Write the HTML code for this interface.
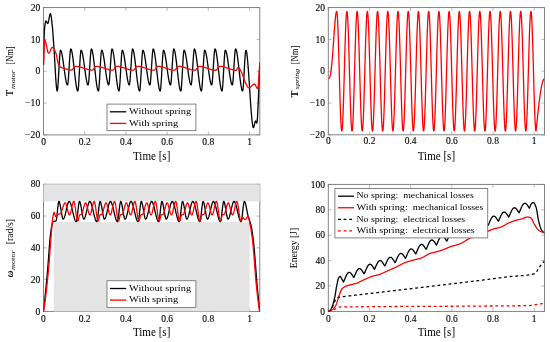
<!DOCTYPE html>
<html><head><meta charset="utf-8"><style>html,body{margin:0;padding:0;background:#fff;overflow:hidden}svg{display:block}</style></head><body>
<svg width="550" height="342" viewBox="0 0 550 342">
<style>text{font-family:"Liberation Serif",serif;fill:#000}.tk{font-size:9.5px;stroke:#000;stroke-width:0.12px}.xl{font-size:12px}.lg{font-size:8.8px}.yl{font-size:9.6px}.ys{font-size:7px;font-style:italic}</style>
<defs><clipPath id="ca"><rect x="43.5" y="5.6" width="216.3" height="131.3"/></clipPath><clipPath id="cb"><rect x="328.3" y="5.6" width="216.2" height="131.2"/></clipPath><clipPath id="cc"><rect x="43.45" y="182.3" width="216.35" height="131.1"/></clipPath><clipPath id="cd"><rect x="328.3" y="182.4" width="216.2" height="131"/></clipPath></defs>
<rect width="550" height="342" fill="#fff"/>
<path d="M43.5,134.9 V131.6 M43.5,7.6 V10.9 M84.7,134.9 V131.6 M84.7,7.6 V10.9 M125.9,134.9 V131.6 M125.9,7.6 V10.9 M167.1,134.9 V131.6 M167.1,7.6 V10.9 M208.3,134.9 V131.6 M208.3,7.6 V10.9 M249.5,134.9 V131.6 M249.5,7.6 V10.9 M43.5,134.9 H46.8 M259.8,134.9 H256.5 M43.5,103.08 H46.8 M259.8,103.08 H256.5 M43.5,71.25 H46.8 M259.8,71.25 H256.5 M43.5,39.42 H46.8 M259.8,39.42 H256.5 M43.5,7.6 H46.8 M259.8,7.6 H256.5" stroke="#777" stroke-width="0.5" fill="none"/>
<rect x="43.5" y="7.6" width="216.3" height="127.3" fill="none" stroke="#777" stroke-width="0.9"/>
<path d="M328.3,134.8 V131.5 M328.3,7.6 V10.9 M369.48,134.8 V131.5 M369.48,7.6 V10.9 M410.66,134.8 V131.5 M410.66,7.6 V10.9 M451.84,134.8 V131.5 M451.84,7.6 V10.9 M493.02,134.8 V131.5 M493.02,7.6 V10.9 M534.2,134.8 V131.5 M534.2,7.6 V10.9 M328.3,134.8 H331.6 M544.5,134.8 H541.2 M328.3,103 H331.6 M544.5,103 H541.2 M328.3,71.2 H331.6 M544.5,71.2 H541.2 M328.3,39.4 H331.6 M544.5,39.4 H541.2 M328.3,7.6 H331.6 M544.5,7.6 H541.2" stroke="#777" stroke-width="0.5" fill="none"/>
<rect x="328.3" y="7.6" width="216.2" height="127.2" fill="none" stroke="#777" stroke-width="0.9"/>
<path d="M43.45,311.4 V308.1 M43.45,184.3 V187.6 M84.66,311.4 V308.1 M84.66,184.3 V187.6 M125.87,311.4 V308.1 M125.87,184.3 V187.6 M167.08,311.4 V308.1 M167.08,184.3 V187.6 M208.29,311.4 V308.1 M208.29,184.3 V187.6 M249.5,311.4 V308.1 M249.5,184.3 V187.6 M43.45,311.4 H46.75 M259.8,311.4 H256.5 M43.45,279.62 H46.75 M259.8,279.62 H256.5 M43.45,247.85 H46.75 M259.8,247.85 H256.5 M43.45,216.07 H46.75 M259.8,216.07 H256.5 M43.45,184.3 H46.75 M259.8,184.3 H256.5" stroke="#777" stroke-width="0.5" fill="none"/>
<rect x="43.45" y="184.3" width="216.35" height="127.1" fill="none" stroke="#777" stroke-width="0.9"/>
<path d="M328.3,311.4 V308.1 M328.3,184.4 V187.7 M369.48,311.4 V308.1 M369.48,184.4 V187.7 M410.66,311.4 V308.1 M410.66,184.4 V187.7 M451.84,311.4 V308.1 M451.84,184.4 V187.7 M493.02,311.4 V308.1 M493.02,184.4 V187.7 M534.2,311.4 V308.1 M534.2,184.4 V187.7 M328.3,311.4 H331.6 M544.5,311.4 H541.2 M328.3,286 H331.6 M544.5,286 H541.2 M328.3,260.6 H331.6 M544.5,260.6 H541.2 M328.3,235.2 H331.6 M544.5,235.2 H541.2 M328.3,209.8 H331.6 M544.5,209.8 H541.2 M328.3,184.4 H331.6 M544.5,184.4 H541.2" stroke="#777" stroke-width="0.5" fill="none"/>
<rect x="328.3" y="184.4" width="216.2" height="127" fill="none" stroke="#777" stroke-width="0.9"/>
<rect x="43.45" y="184.3" width="216.35" height="17" fill="#e4e4e4"/>
<rect x="53.75" y="222.11" width="195.75" height="89.29" fill="#e4e4e4"/>
<g fill="none" stroke-width="1.3" stroke-linejoin="round" clip-path="url(#ca)">
<path d="M43.5,64.89 L43.75,50.95 L43.99,40.7 L44.02,40.06 L44.24,33.9 L44.49,29.37 L44.53,28.92 L44.74,27.03 L44.98,25.03 L45.23,23.37 L45.48,22.1 L45.72,21.28 L45.97,20.97 L45.99,20.97 L46.22,21.08 L46.47,21.42 L46.71,21.91 L46.96,22.44 L47.21,22.94 L47.46,23.33 L47.7,23.51 L47.74,23.51 L47.95,23.35 L48.2,22.77 L48.44,21.86 L48.69,20.72 L48.94,19.42 L49.19,18.07 L49.43,16.76 L49.68,15.56 L49.93,14.59 L50.17,13.92 L50.42,13.65 L50.44,13.65 L50.67,13.93 L50.92,14.83 L51.16,16.24 L51.41,18.03 L51.66,20.11 L51.9,22.36 L52.15,24.67 L52.34,26.38 L52.4,26.96 L52.65,29.67 L52.89,32.86 L53.14,36.35 L53.39,39.94 L53.64,43.44 L53.74,44.84 L53.88,46.82 L54.13,50.55 L54.38,54.59 L54.62,58.85 L54.87,63.22 L55.12,67.61 L55.37,71.9 L55.61,76 L55.86,79.81 L56.11,83.22 L56.35,86.14 L56.6,88.46 L56.85,90.08 L57.1,90.9 L57.2,90.98 L57.34,90.75 L57.59,89.39 L57.84,86.99 L58.08,83.74 L58.33,79.85 L58.58,75.53 L58.83,71 L59.07,66.44 L59.32,62.07 L59.57,58.1 L59.82,54.73 L60.06,52.17 L60.31,50.62 L60.5,50.25 L60.56,50.25 L60.8,50.44 L61.05,50.87 L61.3,51.51 L61.55,52.35 L61.79,53.38 L62.04,54.56 L62.29,55.9 L62.53,57.36 L62.78,58.92 L63.03,60.58 L63.28,62.31 L63.52,64.09 L63.77,65.91 L64.02,67.74 L64.26,69.58 L64.51,71.39 L64.76,73.16 L65.01,74.88 L65.25,76.52 L65.5,78.08 L65.75,79.51 L66,80.82 L66.24,81.99 L66.49,82.98 L66.74,83.79 L66.98,84.4 L67.23,84.79 L67.48,84.93 L67.5,84.93 L67.73,84.45 L67.97,82.92 L68.22,80.53 L68.47,77.45 L68.71,73.87 L68.96,69.98 L69.21,65.94 L69.46,61.96 L69.7,58.2 L69.95,54.85 L70.2,52.09 L70.44,50.1 L70.69,49.08 L70.8,48.97 L70.94,49.03 L71.19,49.35 L71.43,49.96 L71.68,50.82 L71.93,51.91 L72.18,53.22 L72.42,54.72 L72.67,56.39 L72.92,58.2 L73.16,60.14 L73.41,62.18 L73.66,64.3 L73.91,66.47 L74.15,68.68 L74.4,70.9 L74.65,73.12 L74.89,75.3 L75.14,77.43 L75.39,79.48 L75.64,81.44 L75.88,83.27 L76.13,84.96 L76.38,86.49 L76.62,87.84 L76.87,88.97 L77.12,89.87 L77.37,90.52 L77.61,90.89 L77.8,90.98 L77.86,90.94 L78.11,89.97 L78.36,87.89 L78.6,84.9 L78.85,81.2 L79.1,77.01 L79.34,72.52 L79.59,67.95 L79.84,63.49 L80.09,59.37 L80.33,55.77 L80.58,52.92 L80.83,51.01 L81.07,50.25 L81.09,50.25 L81.32,50.35 L81.57,50.7 L81.82,51.27 L82.06,52.05 L82.31,53.02 L82.56,54.15 L82.8,55.44 L83.05,56.86 L83.3,58.39 L83.55,60.02 L83.79,61.73 L84.04,63.49 L84.29,65.3 L84.54,67.13 L84.78,68.97 L85.03,70.79 L85.28,72.58 L85.52,74.32 L85.77,75.99 L86.02,77.57 L86.27,79.05 L86.51,80.4 L86.76,81.62 L87.01,82.67 L87.25,83.54 L87.5,84.22 L87.75,84.68 L88,84.91 L88.1,84.93 L88.24,84.73 L88.49,83.53 L88.74,81.41 L88.98,78.54 L89.23,75.11 L89.48,71.3 L89.73,67.29 L89.97,63.27 L90.22,59.41 L90.47,55.91 L90.72,52.93 L90.96,50.67 L91.21,49.3 L91.4,48.97 L91.46,48.98 L91.7,49.21 L91.95,49.73 L92.2,50.5 L92.45,51.52 L92.69,52.76 L92.94,54.2 L93.19,55.82 L93.43,57.58 L93.68,59.48 L93.93,61.49 L94.18,63.58 L94.42,65.74 L94.67,67.94 L94.92,70.16 L95.16,72.38 L95.41,74.58 L95.66,76.73 L95.91,78.81 L96.15,80.8 L96.4,82.67 L96.65,84.42 L96.9,86 L97.14,87.41 L97.39,88.62 L97.64,89.6 L97.88,90.33 L98.13,90.8 L98.38,90.98 L98.4,90.98 L98.63,90.43 L98.87,88.7 L99.12,85.99 L99.37,82.5 L99.61,78.45 L99.86,74.04 L100.11,69.47 L100.36,64.95 L100.6,60.69 L100.85,56.9 L101.1,53.78 L101.34,51.53 L101.59,50.36 L101.7,50.25 L101.84,50.29 L102.09,50.56 L102.33,51.06 L102.58,51.77 L102.83,52.68 L103.08,53.76 L103.32,54.99 L103.57,56.37 L103.82,57.87 L104.06,59.47 L104.31,61.15 L104.56,62.9 L104.81,64.69 L105.05,66.52 L105.3,68.36 L105.55,70.18 L105.79,71.99 L106.04,73.74 L106.29,75.44 L106.54,77.05 L106.78,78.57 L107.03,79.97 L107.28,81.23 L107.52,82.34 L107.77,83.27 L108.02,84.02 L108.27,84.55 L108.51,84.86 L108.7,84.93 L108.76,84.9 L109.01,84.05 L109.26,82.21 L109.5,79.57 L109.75,76.3 L110,72.6 L110.24,68.64 L110.49,64.6 L110.74,60.67 L110.99,57.03 L111.23,53.85 L111.48,51.33 L111.73,49.65 L111.97,48.98 L112,48.97 L112.22,49.1 L112.47,49.52 L112.72,50.22 L112.96,51.16 L113.21,52.33 L113.46,53.7 L113.7,55.26 L113.95,56.98 L114.2,58.84 L114.45,60.81 L114.69,62.88 L114.94,65.02 L115.19,67.2 L115.44,69.42 L115.68,71.64 L115.93,73.85 L116.18,76.02 L116.42,78.12 L116.67,80.15 L116.92,82.06 L117.17,83.85 L117.41,85.49 L117.66,86.96 L117.91,88.24 L118.15,89.3 L118.4,90.12 L118.65,90.68 L118.9,90.95 L119,90.98 L119.14,90.75 L119.39,89.39 L119.64,86.99 L119.88,83.74 L120.13,79.85 L120.38,75.53 L120.63,71 L120.87,66.44 L121.12,62.07 L121.37,58.1 L121.62,54.73 L121.86,52.17 L122.11,50.62 L122.3,50.25 L122.36,50.25 L122.6,50.44 L122.85,50.87 L123.1,51.51 L123.35,52.35 L123.59,53.38 L123.84,54.56 L124.09,55.9 L124.33,57.36 L124.58,58.92 L124.83,60.58 L125.08,62.31 L125.32,64.09 L125.57,65.91 L125.82,67.74 L126.06,69.58 L126.31,71.39 L126.56,73.16 L126.81,74.88 L127.05,76.52 L127.3,78.08 L127.55,79.51 L127.8,80.82 L128.04,81.99 L128.29,82.98 L128.54,83.79 L128.78,84.4 L129.03,84.79 L129.28,84.93 L129.3,84.93 L129.53,84.45 L129.77,82.92 L130.02,80.53 L130.27,77.45 L130.51,73.87 L130.76,69.98 L131.01,65.94 L131.26,61.96 L131.5,58.2 L131.75,54.85 L132,52.09 L132.24,50.1 L132.49,49.08 L132.6,48.97 L132.74,49.03 L132.99,49.35 L133.23,49.96 L133.48,50.82 L133.73,51.91 L133.98,53.22 L134.22,54.72 L134.47,56.39 L134.72,58.2 L134.96,60.14 L135.21,62.18 L135.46,64.3 L135.71,66.47 L135.95,68.68 L136.2,70.9 L136.45,73.12 L136.69,75.3 L136.94,77.43 L137.19,79.48 L137.44,81.44 L137.68,83.27 L137.93,84.96 L138.18,86.49 L138.42,87.84 L138.67,88.97 L138.92,89.87 L139.17,90.52 L139.41,90.89 L139.6,90.98 L139.66,90.94 L139.91,89.97 L140.16,87.89 L140.4,84.9 L140.65,81.2 L140.9,77.01 L141.14,72.52 L141.39,67.95 L141.64,63.49 L141.89,59.37 L142.13,55.77 L142.38,52.92 L142.63,51.01 L142.87,50.25 L142.9,50.25 L143.12,50.35 L143.37,50.7 L143.62,51.27 L143.86,52.05 L144.11,53.02 L144.36,54.15 L144.6,55.44 L144.85,56.86 L145.1,58.39 L145.35,60.02 L145.59,61.73 L145.84,63.49 L146.09,65.3 L146.34,67.13 L146.58,68.97 L146.83,70.79 L147.08,72.58 L147.32,74.32 L147.57,75.99 L147.82,77.57 L148.07,79.05 L148.31,80.4 L148.56,81.62 L148.81,82.67 L149.05,83.54 L149.3,84.22 L149.55,84.68 L149.8,84.91 L149.9,84.93 L150.04,84.73 L150.29,83.53 L150.54,81.41 L150.78,78.54 L151.03,75.11 L151.28,71.3 L151.53,67.29 L151.77,63.27 L152.02,59.41 L152.27,55.91 L152.52,52.93 L152.76,50.67 L153.01,49.3 L153.19,48.97 L153.26,48.98 L153.5,49.21 L153.75,49.73 L154,50.5 L154.25,51.52 L154.49,52.76 L154.74,54.2 L154.99,55.82 L155.23,57.58 L155.48,59.48 L155.73,61.49 L155.98,63.58 L156.22,65.74 L156.47,67.94 L156.72,70.16 L156.96,72.38 L157.21,74.58 L157.46,76.73 L157.71,78.81 L157.95,80.8 L158.2,82.67 L158.45,84.42 L158.7,86 L158.94,87.41 L159.19,88.62 L159.44,89.6 L159.68,90.33 L159.93,90.8 L160.18,90.98 L160.2,90.98 L160.43,90.43 L160.67,88.7 L160.92,85.99 L161.17,82.5 L161.41,78.45 L161.66,74.04 L161.91,69.47 L162.16,64.95 L162.4,60.69 L162.65,56.9 L162.9,53.78 L163.14,51.53 L163.39,50.36 L163.5,50.25 L163.64,50.29 L163.89,50.56 L164.13,51.06 L164.38,51.77 L164.63,52.68 L164.88,53.76 L165.12,54.99 L165.37,56.37 L165.62,57.87 L165.86,59.47 L166.11,61.15 L166.36,62.9 L166.61,64.69 L166.85,66.52 L167.1,68.36 L167.35,70.18 L167.59,71.99 L167.84,73.74 L168.09,75.44 L168.34,77.05 L168.58,78.57 L168.83,79.97 L169.08,81.23 L169.32,82.34 L169.57,83.27 L169.82,84.02 L170.07,84.55 L170.31,84.86 L170.5,84.93 L170.56,84.9 L170.81,84.05 L171.06,82.21 L171.3,79.57 L171.55,76.3 L171.8,72.6 L172.04,68.64 L172.29,64.6 L172.54,60.67 L172.79,57.03 L173.03,53.85 L173.28,51.33 L173.53,49.65 L173.77,48.98 L173.8,48.97 L174.02,49.1 L174.27,49.52 L174.52,50.22 L174.76,51.16 L175.01,52.33 L175.26,53.7 L175.5,55.26 L175.75,56.98 L176,58.84 L176.25,60.81 L176.49,62.88 L176.74,65.02 L176.99,67.2 L177.24,69.42 L177.48,71.64 L177.73,73.85 L177.98,76.02 L178.22,78.12 L178.47,80.15 L178.72,82.06 L178.97,83.85 L179.21,85.49 L179.46,86.96 L179.71,88.24 L179.95,89.3 L180.2,90.12 L180.45,90.68 L180.7,90.95 L180.8,90.98 L180.94,90.75 L181.19,89.39 L181.44,86.99 L181.68,83.74 L181.93,79.85 L182.18,75.53 L182.43,71 L182.67,66.44 L182.92,62.07 L183.17,58.1 L183.42,54.73 L183.66,52.17 L183.91,50.62 L184.1,50.25 L184.16,50.25 L184.4,50.44 L184.65,50.87 L184.9,51.51 L185.15,52.35 L185.39,53.38 L185.64,54.56 L185.89,55.9 L186.13,57.36 L186.38,58.92 L186.63,60.58 L186.88,62.31 L187.12,64.09 L187.37,65.91 L187.62,67.74 L187.86,69.58 L188.11,71.39 L188.36,73.16 L188.61,74.88 L188.85,76.52 L189.1,78.08 L189.35,79.51 L189.6,80.82 L189.84,81.99 L190.09,82.98 L190.34,83.79 L190.58,84.4 L190.83,84.79 L191.08,84.93 L191.1,84.93 L191.33,84.45 L191.57,82.92 L191.82,80.53 L192.07,77.45 L192.31,73.87 L192.56,69.98 L192.81,65.94 L193.06,61.96 L193.3,58.2 L193.55,54.85 L193.8,52.09 L194.04,50.1 L194.29,49.08 L194.4,48.97 L194.54,49.03 L194.79,49.35 L195.03,49.96 L195.28,50.82 L195.53,51.91 L195.78,53.22 L196.02,54.72 L196.27,56.39 L196.52,58.2 L196.76,60.14 L197.01,62.18 L197.26,64.3 L197.51,66.47 L197.75,68.68 L198,70.9 L198.25,73.12 L198.49,75.3 L198.74,77.43 L198.99,79.48 L199.24,81.44 L199.48,83.27 L199.73,84.96 L199.98,86.49 L200.22,87.84 L200.47,88.97 L200.72,89.87 L200.97,90.52 L201.21,90.89 L201.4,90.98 L201.46,90.94 L201.71,89.97 L201.96,87.89 L202.2,84.9 L202.45,81.2 L202.7,77.01 L202.94,72.52 L203.19,67.95 L203.44,63.49 L203.69,59.37 L203.93,55.77 L204.18,52.92 L204.43,51.01 L204.67,50.25 L204.7,50.25 L204.92,50.35 L205.17,50.7 L205.42,51.27 L205.66,52.05 L205.91,53.02 L206.16,54.15 L206.4,55.44 L206.65,56.86 L206.9,58.39 L207.15,60.02 L207.39,61.73 L207.64,63.49 L207.89,65.3 L208.14,67.13 L208.38,68.97 L208.63,70.79 L208.88,72.58 L209.12,74.32 L209.37,75.99 L209.62,77.57 L209.87,79.05 L210.11,80.4 L210.36,81.62 L210.61,82.67 L210.85,83.54 L211.1,84.22 L211.35,84.68 L211.6,84.91 L211.7,84.93 L211.84,84.73 L212.09,83.53 L212.34,81.41 L212.58,78.54 L212.83,75.11 L213.08,71.3 L213.33,67.29 L213.57,63.27 L213.82,59.41 L214.07,55.91 L214.32,52.93 L214.56,50.67 L214.81,49.3 L215,48.97 L215.06,48.98 L215.3,49.21 L215.55,49.73 L215.8,50.5 L216.05,51.52 L216.29,52.76 L216.54,54.2 L216.79,55.82 L217.03,57.58 L217.28,59.48 L217.53,61.49 L217.78,63.58 L218.02,65.74 L218.27,67.94 L218.52,70.16 L218.76,72.38 L219.01,74.58 L219.26,76.73 L219.51,78.81 L219.75,80.8 L220,82.67 L220.25,84.42 L220.5,86 L220.74,87.41 L220.99,88.62 L221.24,89.6 L221.48,90.33 L221.73,90.8 L221.98,90.98 L222,90.98 L222.23,90.43 L222.47,88.7 L222.72,85.99 L222.97,82.5 L223.21,78.45 L223.46,74.04 L223.71,69.47 L223.96,64.95 L224.2,60.69 L224.45,56.9 L224.7,53.78 L224.94,51.53 L225.19,50.36 L225.3,50.25 L225.44,50.29 L225.69,50.56 L225.93,51.06 L226.18,51.77 L226.43,52.68 L226.68,53.76 L226.92,54.99 L227.17,56.37 L227.42,57.87 L227.66,59.47 L227.91,61.15 L228.16,62.9 L228.41,64.69 L228.65,66.52 L228.9,68.36 L229.15,70.18 L229.39,71.99 L229.64,73.74 L229.89,75.44 L230.14,77.05 L230.38,78.57 L230.63,79.97 L230.88,81.23 L231.12,82.34 L231.37,83.27 L231.62,84.02 L231.87,84.55 L232.11,84.86 L232.3,84.93 L232.36,84.9 L232.61,84.05 L232.86,82.21 L233.1,79.57 L233.35,76.3 L233.6,72.6 L233.84,68.64 L234.09,64.6 L234.34,60.67 L234.59,57.03 L234.83,53.85 L235.08,51.33 L235.33,49.65 L235.57,48.98 L235.6,48.97 L235.82,49.1 L236.07,49.52 L236.32,50.22 L236.56,51.16 L236.81,52.33 L237.06,53.7 L237.3,55.26 L237.55,56.98 L237.8,58.84 L238.05,60.81 L238.29,62.88 L238.54,65.02 L238.79,67.2 L239.04,69.42 L239.28,71.64 L239.53,73.85 L239.78,76.02 L240.02,78.12 L240.27,80.15 L240.52,82.06 L240.77,83.85 L241.01,85.49 L241.26,86.96 L241.51,88.24 L241.75,89.3 L242,90.12 L242.25,90.68 L242.5,90.95 L242.6,90.98 L242.74,90.75 L242.99,89.39 L243.24,86.99 L243.48,83.74 L243.73,79.85 L243.98,75.53 L244.23,71 L244.47,66.44 L244.72,62.07 L244.97,58.1 L245.22,54.73 L245.46,52.17 L245.71,50.62 L245.9,50.25 L245.96,50.26 L246.2,50.63 L246.45,51.45 L246.7,52.71 L246.95,54.35 L247.19,56.36 L247.44,58.7 L247.69,61.33 L247.93,64.23 L248.18,67.35 L248.43,70.67 L248.68,74.16 L248.92,77.77 L249.17,81.49 L249.42,85.26 L249.66,89.07 L249.91,92.88 L250.16,96.65 L250.41,100.36 L250.65,103.96 L250.9,107.44 L251.15,110.74 L251.4,113.85 L251.64,116.72 L251.89,119.33 L252.14,121.64 L252.38,123.62 L252.63,125.24 L252.88,126.46 L253.13,127.25 L253.37,127.57 L253.41,127.58 L253.62,127.41 L253.87,126.84 L254.11,125.96 L254.36,124.9 L254.61,123.77 L254.86,122.69 L255.1,121.77 L255.35,121.13 L255.6,120.9 L255.6,120.9 L255.84,121.14 L256.09,121.73 L256.34,122.41 L256.59,122.95 L256.79,123.12 L256.83,123.1 L257.08,121.98 L257.33,119.42 L257.58,115.68 L257.82,111.06 L258.07,105.85 L258.32,100.33 L258.56,94.78 L258.77,90.34 L258.81,89.47 L259.06,83.78 L259.31,77.39 L259.55,70.51 L259.8,63.29 L259.8,63.29" stroke="#000"/>
<path d="M43.5,63.93 L43.75,57.52 L43.99,51.11 L44.24,45.52 L44.49,41.56 L44.74,40.06 L44.74,40.06 L44.98,40.22 L45.23,40.65 L45.48,41.33 L45.72,42.2 L45.97,43.24 L46.22,44.39 L46.47,45.62 L46.71,46.88 L46.96,48.13 L47.21,49.34 L47.46,50.45 L47.7,51.44 L47.95,52.25 L48.2,52.85 L48.44,53.2 L48.61,53.27 L48.69,53.26 L48.94,53.14 L49.19,52.88 L49.43,52.52 L49.68,52.07 L49.93,51.55 L50.17,50.99 L50.42,50.4 L50.67,49.81 L50.92,49.24 L51.16,48.71 L51.41,48.24 L51.66,47.85 L51.9,47.57 L52.15,47.41 L52.3,47.38 L52.4,47.39 L52.65,47.46 L52.89,47.6 L53.14,47.81 L53.39,48.08 L53.64,48.41 L53.88,48.79 L54.13,49.22 L54.38,49.68 L54.62,50.19 L54.87,50.72 L55.12,51.28 L55.37,51.86 L55.61,52.46 L55.86,53.07 L56,53.43 L56.11,53.71 L56.35,54.61 L56.6,55.74 L56.85,57.03 L57.1,58.41 L57.34,59.79 L57.59,61.12 L57.84,62.3 L58.08,63.26 L58.33,63.93 L58.58,64.41 L58.83,64.86 L59.07,65.27 L59.32,65.65 L59.57,65.99 L59.82,66.3 L60.06,66.57 L60.31,66.81 L60.56,67.01 L60.8,67.18 L60.91,67.24 L61.05,67.32 L61.3,67.45 L61.55,67.57 L61.79,67.69 L62.04,67.79 L62.29,67.9 L62.53,67.99 L62.78,68.09 L63.03,68.17 L63.28,68.25 L63.52,68.33 L63.77,68.41 L64.02,68.48 L64.26,68.54 L64.51,68.61 L64.76,68.67 L65.01,68.73 L65.25,68.79 L65.5,68.84 L65.75,68.9 L66,68.96 L66.24,69.01 L66.49,69.07 L66.74,69.12 L66.98,69.18 L66.98,69.18 L67.23,69.24 L67.48,69.3 L67.73,69.36 L67.97,69.43 L68.22,69.49 L68.47,69.56 L68.71,69.62 L68.96,69.68 L69.21,69.73 L69.46,69.79 L69.7,69.84 L69.95,69.89 L70.2,69.93 L70.44,69.96 L70.69,69.99 L70.94,70.02 L71.19,70.03 L71.43,70.04 L71.52,70.04 L71.68,70.02 L71.93,69.93 L72.18,69.76 L72.42,69.53 L72.67,69.26 L72.92,68.95 L73.16,68.62 L73.41,68.27 L73.66,67.92 L73.91,67.57 L74.15,67.25 L74.4,66.95 L74.65,66.7 L74.89,66.51 L75.14,66.37 L75.39,66.32 L75.43,66.32 L75.64,66.32 L75.88,66.33 L76.13,66.34 L76.38,66.35 L76.62,66.37 L76.87,66.4 L77.12,66.42 L77.37,66.46 L77.61,66.49 L77.86,66.53 L78.11,66.58 L78.36,66.62 L78.6,66.67 L78.85,66.73 L79.1,66.78 L79.34,66.84 L79.59,66.9 L79.84,66.96 L80.09,67.03 L80.33,67.1 L80.58,67.17 L80.83,67.24 L81.07,67.32 L81.32,67.39 L81.57,67.47 L81.82,67.55 L82.06,67.63 L82.31,67.71 L82.56,67.79 L82.8,67.87 L83.05,67.95 L83.3,68.04 L83.55,68.12 L83.79,68.2 L84.04,68.29 L84.29,68.37 L84.54,68.45 L84.78,68.53 L85.03,68.62 L85.28,68.7 L85.52,68.78 L85.77,68.86 L86.02,68.93 L86.27,69.01 L86.51,69.09 L86.76,69.16 L87.01,69.23 L87.25,69.3 L87.5,69.37 L87.75,69.44 L88,69.5 L88.24,69.56 L88.49,69.62 L88.74,69.67 L88.98,69.73 L89.23,69.77 L89.48,69.82 L89.73,69.86 L89.97,69.9 L90.22,69.94 L90.47,69.97 L90.72,70 L90.96,70.02 L91.21,70.04 L91.46,70.06 L91.7,70.07 L91.95,70.07 L92.12,70.07 L92.2,70.07 L92.45,70 L92.69,69.85 L92.94,69.64 L93.19,69.38 L93.43,69.08 L93.68,68.75 L93.93,68.4 L94.18,68.05 L94.42,67.7 L94.67,67.36 L94.92,67.05 L95.16,66.79 L95.41,66.57 L95.66,66.41 L95.91,66.33 L96.03,66.32 L96.15,66.32 L96.4,66.32 L96.65,66.33 L96.9,66.35 L97.14,66.37 L97.39,66.39 L97.64,66.42 L97.88,66.45 L98.13,66.48 L98.38,66.52 L98.63,66.56 L98.87,66.61 L99.12,66.66 L99.37,66.71 L99.61,66.77 L99.86,66.82 L100.11,66.89 L100.36,66.95 L100.6,67.01 L100.85,67.08 L101.1,67.15 L101.34,67.23 L101.59,67.3 L101.84,67.37 L102.09,67.45 L102.33,67.53 L102.58,67.61 L102.83,67.69 L103.08,67.77 L103.32,67.85 L103.57,67.94 L103.82,68.02 L104.06,68.11 L104.31,68.19 L104.56,68.27 L104.81,68.36 L105.05,68.44 L105.3,68.53 L105.55,68.61 L105.79,68.69 L106.04,68.77 L106.29,68.85 L106.54,68.93 L106.78,69.01 L107.03,69.08 L107.28,69.16 L107.52,69.23 L107.77,69.3 L108.02,69.37 L108.27,69.44 L108.51,69.5 L108.76,69.57 L109.01,69.63 L109.26,69.68 L109.5,69.74 L109.75,69.79 L110,69.84 L110.24,69.88 L110.49,69.92 L110.74,69.96 L110.99,69.99 L111.23,70.02 L111.48,70.05 L111.73,70.07 L111.97,70.08 L112.22,70.09 L112.47,70.1 L112.72,70.1 L112.96,70.06 L113.21,69.94 L113.46,69.75 L113.7,69.5 L113.95,69.21 L114.2,68.88 L114.45,68.54 L114.69,68.18 L114.94,67.82 L115.19,67.48 L115.44,67.16 L115.68,66.88 L115.93,66.64 L116.18,66.46 L116.42,66.35 L116.63,66.32 L116.67,66.32 L116.92,66.32 L117.17,66.33 L117.41,66.34 L117.66,66.36 L117.91,66.38 L118.15,66.41 L118.4,66.44 L118.65,66.47 L118.9,66.51 L119.14,66.55 L119.39,66.6 L119.64,66.64 L119.88,66.7 L120.13,66.75 L120.38,66.81 L120.63,66.87 L120.87,66.93 L121.12,67 L121.37,67.07 L121.62,67.14 L121.86,67.21 L122.11,67.28 L122.36,67.36 L122.6,67.44 L122.85,67.51 L123.1,67.59 L123.35,67.68 L123.59,67.76 L123.84,67.84 L124.09,67.92 L124.33,68.01 L124.58,68.09 L124.83,68.18 L125.08,68.26 L125.32,68.35 L125.57,68.43 L125.82,68.52 L126.06,68.6 L126.31,68.68 L126.56,68.76 L126.81,68.85 L127.05,68.93 L127.3,69.01 L127.55,69.08 L127.8,69.16 L128.04,69.23 L128.29,69.31 L128.54,69.38 L128.78,69.44 L129.03,69.51 L129.28,69.57 L129.53,69.63 L129.77,69.69 L130.02,69.75 L130.27,69.8 L130.51,69.85 L130.76,69.9 L131.01,69.94 L131.26,69.98 L131.5,70.01 L131.75,70.04 L132,70.07 L132.24,70.09 L132.49,70.11 L132.74,70.12 L132.99,70.13 L133.23,70.14 L133.32,70.14 L133.48,70.12 L133.73,70.02 L133.98,69.85 L134.22,69.62 L134.47,69.34 L134.72,69.02 L134.96,68.68 L135.21,68.32 L135.46,67.96 L135.71,67.6 L135.95,67.27 L136.2,66.97 L136.45,66.71 L136.69,66.51 L136.94,66.38 L137.19,66.32 L137.23,66.32 L137.44,66.32 L137.68,66.33 L137.93,66.34 L138.18,66.35 L138.42,66.37 L138.67,66.4 L138.92,66.43 L139.17,66.46 L139.41,66.5 L139.66,66.54 L139.91,66.58 L140.16,66.63 L140.4,66.68 L140.65,66.74 L140.9,66.79 L141.14,66.85 L141.39,66.92 L141.64,66.98 L141.89,67.05 L142.13,67.12 L142.38,67.19 L142.63,67.27 L142.87,67.34 L143.12,67.42 L143.37,67.5 L143.62,67.58 L143.86,67.66 L144.11,67.74 L144.36,67.82 L144.6,67.91 L144.85,67.99 L145.1,68.08 L145.35,68.16 L145.59,68.25 L145.84,68.34 L146.09,68.42 L146.34,68.51 L146.58,68.59 L146.83,68.67 L147.08,68.76 L147.32,68.84 L147.57,68.92 L147.82,69 L148.07,69.08 L148.31,69.16 L148.56,69.23 L148.81,69.31 L149.05,69.38 L149.3,69.45 L149.55,69.51 L149.8,69.58 L150.04,69.64 L150.29,69.7 L150.54,69.76 L150.78,69.81 L151.03,69.86 L151.28,69.91 L151.53,69.95 L151.77,69.99 L152.02,70.03 L152.27,70.06 L152.52,70.09 L152.76,70.12 L153.01,70.14 L153.26,70.15 L153.5,70.16 L153.75,70.17 L153.92,70.17 L154,70.16 L154.25,70.09 L154.49,69.94 L154.74,69.73 L154.99,69.46 L155.23,69.15 L155.48,68.81 L155.73,68.45 L155.98,68.09 L156.22,67.73 L156.47,67.39 L156.72,67.07 L156.96,66.8 L157.21,66.57 L157.46,66.41 L157.71,66.33 L157.83,66.32 L157.95,66.32 L158.2,66.32 L158.45,66.33 L158.7,66.35 L158.94,66.37 L159.19,66.39 L159.44,66.42 L159.68,66.45 L159.93,66.49 L160.18,66.53 L160.43,66.57 L160.67,66.62 L160.92,66.67 L161.17,66.72 L161.41,66.78 L161.66,66.84 L161.91,66.9 L162.16,66.96 L162.4,67.03 L162.65,67.1 L162.9,67.17 L163.14,67.25 L163.39,67.32 L163.64,67.4 L163.89,67.48 L164.13,67.56 L164.38,67.64 L164.63,67.73 L164.88,67.81 L165.12,67.89 L165.37,67.98 L165.62,68.06 L165.86,68.15 L166.11,68.24 L166.36,68.32 L166.61,68.41 L166.85,68.5 L167.1,68.58 L167.35,68.67 L167.59,68.75 L167.84,68.83 L168.09,68.92 L168.34,69 L168.58,69.08 L168.83,69.15 L169.08,69.23 L169.32,69.31 L169.57,69.38 L169.82,69.45 L170.07,69.52 L170.31,69.59 L170.56,69.65 L170.81,69.71 L171.06,69.77 L171.3,69.82 L171.55,69.88 L171.8,69.92 L172.04,69.97 L172.29,70.01 L172.54,70.05 L172.79,70.08 L173.03,70.11 L173.28,70.14 L173.53,70.16 L173.77,70.18 L174.02,70.19 L174.27,70.2 L174.52,70.2 L174.52,70.2 L174.76,70.16 L175.01,70.03 L175.26,69.83 L175.5,69.58 L175.75,69.28 L176,68.95 L176.25,68.59 L176.49,68.23 L176.74,67.86 L176.99,67.51 L177.24,67.18 L177.48,66.89 L177.73,66.65 L177.98,66.46 L178.22,66.35 L178.43,66.32 L178.47,66.32 L178.72,66.32 L178.97,66.33 L179.21,66.34 L179.46,66.36 L179.71,66.38 L179.95,66.41 L180.2,66.44 L180.45,66.48 L180.7,66.51 L180.94,66.56 L181.19,66.6 L181.44,66.65 L181.68,66.71 L181.93,66.76 L182.18,66.82 L182.43,66.88 L182.67,66.95 L182.92,67.02 L183.17,67.08 L183.42,67.16 L183.66,67.23 L183.91,67.31 L184.16,67.38 L184.4,67.46 L184.65,67.54 L184.9,67.63 L185.15,67.71 L185.39,67.79 L185.64,67.88 L185.89,67.96 L186.13,68.05 L186.38,68.14 L186.63,68.22 L186.88,68.31 L187.12,68.4 L187.37,68.48 L187.62,68.57 L187.86,68.66 L188.11,68.74 L188.36,68.83 L188.61,68.91 L188.85,68.99 L189.1,69.07 L189.35,69.15 L189.6,69.23 L189.84,69.31 L190.09,69.38 L190.34,69.45 L190.58,69.52 L190.83,69.59 L191.08,69.65 L191.33,69.72 L191.57,69.78 L191.82,69.83 L192.07,69.89 L192.31,69.94 L192.56,69.98 L192.81,70.03 L193.06,70.07 L193.3,70.1 L193.55,70.13 L193.8,70.16 L194.04,70.19 L194.29,70.2 L194.54,70.22 L194.79,70.23 L195.03,70.23 L195.12,70.23 L195.28,70.21 L195.53,70.11 L195.78,69.94 L196.02,69.7 L196.27,69.41 L196.52,69.09 L196.76,68.73 L197.01,68.37 L197.26,68 L197.51,67.64 L197.75,67.3 L198,66.99 L198.25,66.72 L198.49,66.52 L198.74,66.38 L198.99,66.32 L199.03,66.32 L199.24,66.32 L199.48,66.33 L199.73,66.34 L199.98,66.35 L200.22,66.37 L200.47,66.4 L200.72,66.43 L200.97,66.46 L201.21,66.5 L201.46,66.54 L201.71,66.59 L201.96,66.64 L202.2,66.69 L202.45,66.75 L202.7,66.81 L202.94,66.87 L203.19,66.93 L203.44,67 L203.69,67.07 L203.93,67.14 L204.18,67.21 L204.43,67.29 L204.67,67.37 L204.92,67.45 L205.17,67.53 L205.42,67.61 L205.66,67.69 L205.91,67.78 L206.16,67.86 L206.4,67.95 L206.65,68.04 L206.9,68.12 L207.15,68.21 L207.39,68.3 L207.64,68.39 L207.89,68.47 L208.14,68.56 L208.38,68.65 L208.63,68.73 L208.88,68.82 L209.12,68.9 L209.37,68.99 L209.62,69.07 L209.87,69.15 L210.11,69.23 L210.36,69.3 L210.61,69.38 L210.85,69.45 L211.1,69.52 L211.35,69.59 L211.6,69.66 L211.84,69.72 L212.09,69.79 L212.34,69.84 L212.58,69.9 L212.83,69.95 L213.08,70 L213.33,70.04 L213.57,70.08 L213.82,70.12 L214.07,70.16 L214.32,70.18 L214.56,70.21 L214.81,70.23 L215.06,70.25 L215.3,70.26 L215.55,70.26 L215.72,70.26 L215.8,70.26 L216.05,70.18 L216.29,70.03 L216.54,69.81 L216.79,69.54 L217.03,69.22 L217.28,68.87 L217.53,68.51 L217.78,68.13 L218.02,67.77 L218.27,67.41 L218.52,67.09 L218.76,66.81 L219.01,66.58 L219.26,66.42 L219.51,66.33 L219.63,66.32 L219.75,66.32 L220,66.32 L220.25,66.33 L220.5,66.35 L220.74,66.37 L220.99,66.39 L221.24,66.42 L221.48,66.45 L221.73,66.49 L221.98,66.53 L222.23,66.58 L222.47,66.62 L222.72,66.68 L222.97,66.73 L223.21,66.79 L223.46,66.85 L223.71,66.91 L223.96,66.98 L224.2,67.05 L224.45,67.12 L224.7,67.2 L224.94,67.27 L225.19,67.35 L225.44,67.43 L225.69,67.51 L225.93,67.59 L226.18,67.68 L226.43,67.76 L226.68,67.85 L226.92,67.93 L227.17,68.02 L227.42,68.11 L227.66,68.2 L227.91,68.28 L228.16,68.37 L228.41,68.46 L228.65,68.55 L228.9,68.64 L229.15,68.72 L229.39,68.81 L229.64,68.89 L229.89,68.98 L230.14,69.06 L230.38,69.14 L230.63,69.22 L230.88,69.3 L231.12,69.38 L231.37,69.45 L231.62,69.53 L231.87,69.6 L232.11,69.67 L232.36,69.73 L232.61,69.79 L232.86,69.85 L233.1,69.91 L233.35,69.96 L233.6,70.01 L233.84,70.06 L234.09,70.1 L234.34,70.14 L234.59,70.18 L234.83,70.21 L235.08,70.23 L235.33,70.25 L235.57,70.27 L235.82,70.28 L236.07,70.29 L236.32,70.3 L236.32,70.3 L236.56,70.12 L236.81,69.68 L237.06,69.08 L237.3,68.44 L237.55,67.88 L237.8,67.51 L237.96,67.43 L238.05,67.44 L238.29,67.5 L238.54,67.63 L238.79,67.83 L239.04,68.09 L239.28,68.4 L239.53,68.74 L239.78,69.13 L240.02,69.55 L240.27,69.98 L240.52,70.44 L240.77,70.9 L241.01,71.37 L241.26,71.83 L241.47,72.2 L241.51,72.28 L241.75,72.77 L242,73.34 L242.25,73.96 L242.5,74.63 L242.74,75.33 L242.99,76.06 L243.24,76.81 L243.48,77.57 L243.73,78.32 L243.98,79.05 L244.23,79.76 L244.47,80.44 L244.72,81.07 L244.97,81.64 L245.17,82.07 L245.22,82.15 L245.46,82.65 L245.71,83.16 L245.96,83.68 L246.2,84.2 L246.45,84.71 L246.7,85.21 L246.95,85.69 L247.19,86.13 L247.44,86.54 L247.69,86.91 L247.93,87.22 L248.18,87.47 L248.43,87.66 L248.68,87.77 L248.88,87.8 L248.92,87.8 L249.17,87.77 L249.42,87.7 L249.66,87.59 L249.91,87.45 L250.16,87.29 L250.41,87.1 L250.65,86.88 L250.9,86.65 L251.15,86.41 L251.4,86.16 L251.64,85.91 L251.89,85.66 L252.14,85.41 L252.38,85.16 L252.63,84.93 L252.88,84.72 L253.13,84.52 L253.37,84.35 L253.62,84.21 L253.87,84.09 L254.11,84.02 L254.36,83.98 L254.44,83.98 L254.61,84.02 L254.86,84.2 L255.1,84.5 L255.35,84.91 L255.6,85.38 L255.84,85.9 L256.09,86.43 L256.34,86.95 L256.59,87.44 L256.83,87.85 L257.08,88.18 L257.33,88.38 L257.53,88.44 L257.58,88.42 L257.82,87.82 L258.07,86.39 L258.32,84.25 L258.56,81.5 L258.81,78.25 L259.06,74.6 L259.31,70.66 L259.55,66.54 L259.8,62.34 L259.8,62.34" stroke="#f00"/>
</g>
<g fill="none" stroke-width="1.3" stroke-linejoin="round" clip-path="url(#cb)">
<path d="M328.3,78.67 L328.46,78.67 L328.63,78.65 L328.79,78.59 L328.96,78.5 L329.12,78.36 L329.29,78.16 L329.45,77.89 L329.62,77.56 L329.78,77.14 L329.95,76.64 L330.11,76.05 L330.28,75.37 L330.44,74.59 L330.61,73.71 L330.77,72.72 L330.94,71.63 L331.1,70.43 L331.27,69.12 L331.43,67.71 L331.59,66.19 L331.76,64.57 L331.92,62.84 L332.09,61.02 L332.25,59.11 L332.42,57.11 L332.58,55.03 L332.75,52.88 L332.91,50.66 L333.08,48.4 L333.24,46.08 L333.41,43.74 L333.57,41.38 L333.74,39.01 L333.9,36.64 L334.07,34.3 L334.23,31.99 L334.39,29.72 L334.56,27.53 L334.72,25.41 L334.89,23.38 L335.05,21.47 L335.22,19.68 L335.38,18.03 L335.55,16.54 L335.71,15.21 L335.88,14.06 L336.04,13.11 L336.21,12.36 L336.37,11.82 L336.54,11.5 L336.7,11.42 L336.87,11.8 L337.03,12.79 L337.2,14.38 L337.36,16.55 L337.52,19.28 L337.69,22.55 L337.85,26.31 L338.02,30.53 L338.18,35.16 L338.35,40.17 L338.51,45.49 L338.68,51.08 L338.84,56.87 L339.01,62.81 L339.17,68.84 L339.34,74.89 L339.5,80.9 L339.67,86.81 L339.83,92.56 L340,98.1 L340.16,103.36 L340.32,108.28 L340.49,112.83 L340.65,116.96 L340.82,120.61 L340.98,123.76 L341.15,126.37 L341.31,128.41 L341.48,129.87 L341.64,130.73 L341.81,130.98 L341.97,130.62 L342.14,129.65 L342.3,128.08 L342.47,125.92 L342.63,123.21 L342.8,119.96 L342.96,116.22 L343.13,112.01 L343.29,107.39 L343.45,102.39 L343.62,97.08 L343.78,91.5 L343.95,85.71 L344.11,79.78 L344.28,73.75 L344.44,67.7 L344.61,61.69 L344.77,55.77 L344.94,50.01 L345.1,44.47 L345.27,39.2 L345.43,34.26 L345.6,29.7 L345.76,25.57 L345.93,21.9 L346.09,18.73 L346.25,16.1 L346.42,14.04 L346.58,12.56 L346.75,11.69 L346.91,11.42 L347.08,11.76 L347.24,12.71 L347.41,14.27 L347.57,16.4 L347.74,19.1 L347.9,22.33 L348.07,26.06 L348.23,30.25 L348.4,34.86 L348.56,39.85 L348.73,45.15 L348.89,50.72 L349.06,56.5 L349.22,62.44 L349.38,68.46 L349.55,74.51 L349.71,80.52 L349.88,86.44 L350.04,92.21 L350.21,97.76 L350.37,103.04 L350.54,107.99 L350.7,112.56 L350.87,116.71 L351.03,120.4 L351.2,123.58 L351.36,126.22 L351.53,128.3 L351.69,129.8 L351.86,130.7 L352.02,130.98 L352.18,130.66 L352.35,129.72 L352.51,128.19 L352.68,126.07 L352.84,123.39 L353.01,120.18 L353.17,116.47 L353.34,112.29 L353.5,107.69 L353.67,102.71 L353.83,97.42 L354,91.85 L354.16,86.08 L354.33,80.15 L354.49,74.13 L354.66,68.08 L354.82,62.06 L354.99,56.14 L355.15,50.37 L355.31,44.81 L355.48,39.52 L355.64,34.56 L355.81,29.98 L355.97,25.81 L356.14,22.11 L356.3,18.91 L356.47,16.25 L356.63,14.15 L356.8,12.64 L356.96,11.72 L357.13,11.42 L357.29,11.72 L357.46,12.64 L357.62,14.15 L357.79,16.25 L357.95,18.91 L358.12,22.11 L358.28,25.81 L358.44,29.98 L358.61,34.56 L358.77,39.52 L358.94,44.81 L359.1,50.37 L359.27,56.14 L359.43,62.06 L359.6,68.08 L359.76,74.13 L359.93,80.15 L360.09,86.08 L360.26,91.85 L360.42,97.42 L360.59,102.71 L360.75,107.69 L360.92,112.29 L361.08,116.47 L361.24,120.18 L361.41,123.39 L361.57,126.07 L361.74,128.19 L361.9,129.72 L362.07,130.66 L362.23,130.98 L362.4,130.7 L362.56,129.8 L362.73,128.3 L362.89,126.22 L363.06,123.58 L363.22,120.4 L363.39,116.71 L363.55,112.56 L363.72,107.99 L363.88,103.04 L364.05,97.76 L364.21,92.21 L364.37,86.44 L364.54,80.52 L364.7,74.51 L364.87,68.46 L365.03,62.44 L365.2,56.5 L365.36,50.72 L365.53,45.15 L365.69,39.85 L365.86,34.86 L366.02,30.25 L366.19,26.06 L366.35,22.33 L366.52,19.1 L366.68,16.4 L366.85,14.27 L367.01,12.71 L367.17,11.76 L367.34,11.42 L367.5,11.69 L367.67,12.56 L367.83,14.04 L368,16.1 L368.16,18.73 L368.33,21.9 L368.49,25.57 L368.66,29.7 L368.82,34.26 L368.99,39.2 L369.15,44.47 L369.32,50.01 L369.48,55.77 L369.65,61.69 L369.81,67.7 L369.98,73.75 L370.14,79.78 L370.3,85.71 L370.47,91.5 L370.63,97.08 L370.8,102.39 L370.96,107.39 L371.13,112.01 L371.29,116.22 L371.46,119.96 L371.62,123.21 L371.79,125.92 L371.95,128.08 L372.12,129.65 L372.28,130.62 L372.45,130.98 L372.61,130.73 L372.78,129.87 L372.94,128.41 L373.1,126.37 L373.27,123.76 L373.43,120.61 L373.6,116.96 L373.76,112.83 L373.93,108.28 L374.09,103.36 L374.26,98.1 L374.42,92.56 L374.59,86.81 L374.75,80.9 L374.92,74.89 L375.08,68.84 L375.25,62.81 L375.41,56.87 L375.58,51.08 L375.74,45.49 L375.91,40.17 L376.07,35.16 L376.23,30.53 L376.4,26.31 L376.56,22.55 L376.73,19.28 L376.89,16.55 L377.06,14.38 L377.22,12.79 L377.39,11.8 L377.55,11.42 L377.72,11.65 L377.88,12.49 L378.05,13.93 L378.21,15.96 L378.38,18.55 L378.54,21.68 L378.71,25.32 L378.87,29.43 L379.03,33.97 L379.2,38.89 L379.36,44.13 L379.53,49.66 L379.69,55.41 L379.86,61.32 L380.02,67.33 L380.19,73.37 L380.35,79.4 L380.52,85.34 L380.68,91.14 L380.85,96.74 L381.01,102.07 L381.18,107.09 L381.34,111.73 L381.51,115.97 L381.67,119.74 L381.84,123.02 L382,125.77 L382.16,127.96 L382.33,129.57 L382.49,130.57 L382.66,130.98 L382.82,130.77 L382.99,129.95 L383.15,128.52 L383.32,126.51 L383.48,123.94 L383.65,120.82 L383.81,117.2 L383.98,113.1 L384.14,108.58 L384.31,103.67 L384.47,98.43 L384.64,92.92 L384.8,87.18 L384.96,81.27 L385.13,75.26 L385.29,69.21 L385.46,63.19 L385.62,57.24 L385.79,51.44 L385.95,45.83 L386.12,40.49 L386.28,35.47 L386.45,30.8 L386.61,26.56 L386.78,22.77 L386.94,19.47 L387.11,16.71 L387.27,14.5 L387.44,12.88 L387.6,11.85 L387.77,11.43 L387.93,11.62 L388.09,12.42 L388.26,13.82 L388.42,15.81 L388.59,18.37 L388.75,21.47 L388.92,25.08 L389.08,29.16 L389.25,33.67 L389.41,38.57 L389.58,43.8 L389.74,49.31 L389.91,55.04 L390.07,60.94 L390.24,66.95 L390.4,73 L390.57,79.03 L390.73,84.98 L390.9,90.79 L391.06,96.39 L391.22,101.74 L391.39,106.78 L391.55,111.46 L391.72,115.72 L391.88,119.52 L392.05,122.83 L392.21,125.61 L392.38,127.84 L392.54,129.48 L392.71,130.53 L392.87,130.97 L393.04,130.8 L393.2,130.01 L393.37,128.63 L393.53,126.66 L393.7,124.12 L393.86,121.03 L394.02,117.44 L394.19,113.37 L394.35,108.87 L394.52,103.99 L394.68,98.77 L394.85,93.27 L395.01,87.54 L395.18,81.64 L395.34,75.64 L395.51,69.59 L395.67,63.56 L395.84,57.61 L396,51.79 L396.17,46.18 L396.33,40.82 L396.5,35.77 L396.66,31.08 L396.83,26.81 L396.99,22.99 L397.15,19.66 L397.32,16.87 L397.48,14.62 L397.65,12.96 L397.81,11.89 L397.98,11.44 L398.14,11.59 L398.31,12.35 L398.47,13.72 L398.64,15.67 L398.8,18.2 L398.97,21.26 L399.13,24.84 L399.3,28.89 L399.46,33.38 L399.63,38.25 L399.79,43.46 L399.95,48.96 L400.12,54.68 L400.28,60.57 L400.45,66.57 L400.61,72.62 L400.78,78.65 L400.94,84.61 L401.11,90.43 L401.27,96.05 L401.44,101.42 L401.6,106.48 L401.77,111.18 L401.93,115.46 L402.1,119.3 L402.26,122.64 L402.43,125.46 L402.59,127.72 L402.76,129.4 L402.92,130.48 L403.08,130.96 L403.25,130.83 L403.41,130.08 L403.58,128.73 L403.74,126.8 L403.91,124.29 L404.07,121.24 L404.24,117.68 L404.4,113.64 L404.57,109.17 L404.73,104.31 L404.9,99.11 L405.06,93.62 L405.23,87.9 L405.39,82.02 L405.56,76.02 L405.72,69.97 L405.88,63.94 L406.05,57.98 L406.21,52.15 L406.38,46.52 L406.54,41.14 L406.71,36.08 L406.87,31.37 L407.04,27.06 L407.2,23.21 L407.37,19.86 L407.53,17.02 L407.7,14.75 L407.86,13.05 L408.03,11.94 L408.19,11.45 L408.36,11.56 L408.52,12.29 L408.69,13.62 L408.85,15.53 L409.01,18.02 L409.18,21.06 L409.34,24.6 L409.51,28.63 L409.67,33.09 L409.84,37.94 L410,43.13 L410.17,48.61 L410.33,54.32 L410.5,60.2 L410.66,66.19 L410.83,72.24 L410.99,78.28 L411.16,84.24 L411.32,90.07 L411.49,95.71 L411.65,101.09 L411.81,106.17 L411.98,110.89 L412.14,115.21 L412.31,119.07 L412.47,122.45 L412.64,125.3 L412.8,127.59 L412.97,129.31 L413.13,130.43 L413.3,130.95 L413.46,130.85 L413.63,130.15 L413.79,128.84 L413.96,126.93 L414.12,124.46 L414.29,121.45 L414.45,117.92 L414.62,113.91 L414.78,109.46 L414.94,104.62 L415.11,99.44 L415.27,93.97 L415.44,88.27 L415.6,82.39 L415.77,76.39 L415.93,70.35 L416.1,64.31 L416.26,58.35 L416.43,52.51 L416.59,46.87 L416.76,41.47 L416.92,36.38 L417.09,31.65 L417.25,27.32 L417.42,23.44 L417.58,20.05 L417.75,17.19 L417.91,14.87 L418.07,13.14 L418.24,11.99 L418.4,11.46 L418.57,11.54 L418.73,12.22 L418.9,13.51 L419.06,15.4 L419.23,17.85 L419.39,20.85 L419.56,24.37 L419.72,28.36 L419.89,32.8 L420.05,37.62 L420.22,42.79 L420.38,48.26 L420.55,53.95 L420.71,59.83 L420.87,65.82 L421.04,71.86 L421.2,77.9 L421.37,83.87 L421.53,89.71 L421.7,95.36 L421.86,100.76 L422.03,105.86 L422.19,110.61 L422.36,114.95 L422.52,118.84 L422.69,122.25 L422.85,125.13 L423.02,127.46 L423.18,129.22 L423.35,130.38 L423.51,130.93 L423.68,130.88 L423.84,130.21 L424,128.93 L424.17,127.07 L424.33,124.63 L424.5,121.65 L424.66,118.15 L424.83,114.17 L424.99,109.75 L425.16,104.93 L425.32,99.77 L425.49,94.32 L425.65,88.63 L425.82,82.76 L425.98,76.77 L426.15,70.73 L426.31,64.69 L426.48,58.71 L426.64,52.87 L426.8,47.21 L426.97,41.8 L427.13,36.69 L427.3,31.93 L427.46,27.58 L427.63,23.67 L427.79,20.25 L427.96,17.35 L428.12,15 L428.29,13.23 L428.45,12.05 L428.62,11.47 L428.78,11.51 L428.95,12.16 L429.11,13.42 L429.28,15.26 L429.44,17.68 L429.61,20.65 L429.77,24.13 L429.93,28.1 L430.1,32.51 L430.26,37.31 L430.43,42.46 L430.59,47.91 L430.76,53.59 L430.92,59.46 L431.09,65.44 L431.25,71.48 L431.42,77.52 L431.58,83.5 L431.75,89.35 L431.91,95.01 L432.08,100.43 L432.24,105.56 L432.41,110.32 L432.57,114.69 L432.73,118.62 L432.9,122.05 L433.06,124.97 L433.23,127.34 L433.39,129.13 L433.56,130.32 L433.72,130.92 L433.89,130.9 L434.05,130.27 L434.22,129.03 L434.38,127.2 L434.55,124.8 L434.71,121.85 L434.88,118.38 L435.04,114.43 L435.21,110.04 L435.37,105.24 L435.54,100.1 L435.7,94.67 L435.86,88.99 L436.03,83.13 L436.19,77.15 L436.36,71.11 L436.52,65.06 L436.69,59.08 L436.85,53.23 L437.02,47.56 L437.18,42.13 L437.35,37 L437.51,32.22 L437.68,27.84 L437.84,23.9 L438.01,20.45 L438.17,17.51 L438.34,15.13 L438.5,13.32 L438.66,12.1 L438.83,11.49 L438.99,11.49 L439.16,12.1 L439.32,13.32 L439.49,15.13 L439.65,17.51 L439.82,20.45 L439.98,23.9 L440.15,27.84 L440.31,32.22 L440.48,37 L440.64,42.13 L440.81,47.56 L440.97,53.23 L441.14,59.08 L441.3,65.06 L441.47,71.11 L441.63,77.15 L441.79,83.13 L441.96,88.99 L442.12,94.67 L442.29,100.1 L442.45,105.24 L442.62,110.04 L442.78,114.43 L442.95,118.38 L443.11,121.85 L443.28,124.8 L443.44,127.2 L443.61,129.03 L443.77,130.27 L443.94,130.9 L444.1,130.92 L444.27,130.32 L444.43,129.13 L444.6,127.34 L444.76,124.97 L444.92,122.05 L445.09,118.62 L445.25,114.69 L445.42,110.32 L445.58,105.56 L445.75,100.43 L445.91,95.01 L446.08,89.35 L446.24,83.5 L446.41,77.52 L446.57,71.48 L446.74,65.44 L446.9,59.46 L447.07,53.59 L447.23,47.91 L447.4,42.46 L447.56,37.31 L447.72,32.51 L447.89,28.1 L448.05,24.13 L448.22,20.65 L448.38,17.68 L448.55,15.26 L448.71,13.42 L448.88,12.16 L449.04,11.51 L449.21,11.47 L449.37,12.05 L449.54,13.23 L449.7,15 L449.87,17.35 L450.03,20.25 L450.2,23.67 L450.36,27.58 L450.53,31.93 L450.69,36.69 L450.85,41.8 L451.02,47.21 L451.18,52.87 L451.35,58.71 L451.51,64.69 L451.68,70.73 L451.84,76.77 L452.01,82.76 L452.17,88.63 L452.34,94.32 L452.5,99.77 L452.67,104.93 L452.83,109.75 L453,114.17 L453.16,118.15 L453.33,121.65 L453.49,124.63 L453.65,127.07 L453.82,128.93 L453.98,130.21 L454.15,130.88 L454.31,130.93 L454.48,130.38 L454.64,129.22 L454.81,127.46 L454.97,125.13 L455.14,122.25 L455.3,118.84 L455.47,114.95 L455.63,110.61 L455.8,105.86 L455.96,100.76 L456.13,95.36 L456.29,89.71 L456.46,83.87 L456.62,77.9 L456.78,71.86 L456.95,65.82 L457.11,59.83 L457.28,53.95 L457.44,48.26 L457.61,42.79 L457.77,37.62 L457.94,32.8 L458.1,28.36 L458.27,24.37 L458.43,20.85 L458.6,17.85 L458.76,15.4 L458.93,13.51 L459.09,12.22 L459.26,11.54 L459.42,11.46 L459.58,11.99 L459.75,13.14 L459.91,14.87 L460.08,17.19 L460.24,20.05 L460.41,23.44 L460.57,27.32 L460.74,31.65 L460.9,36.38 L461.07,41.47 L461.23,46.87 L461.4,52.51 L461.56,58.35 L461.73,64.31 L461.89,70.35 L462.06,76.39 L462.22,82.39 L462.39,88.27 L462.55,93.97 L462.71,99.44 L462.88,104.62 L463.04,109.46 L463.21,113.91 L463.37,117.92 L463.54,121.45 L463.7,124.46 L463.87,126.93 L464.03,128.84 L464.2,130.15 L464.36,130.85 L464.53,130.95 L464.69,130.43 L464.86,129.31 L465.02,127.59 L465.19,125.3 L465.35,122.45 L465.51,119.07 L465.68,115.21 L465.84,110.89 L466.01,106.17 L466.17,101.09 L466.34,95.71 L466.5,90.07 L466.67,84.24 L466.83,78.28 L467,72.24 L467.16,66.19 L467.33,60.2 L467.49,54.32 L467.66,48.61 L467.82,43.13 L467.99,37.94 L468.15,33.09 L468.32,28.63 L468.48,24.6 L468.64,21.06 L468.81,18.02 L468.97,15.53 L469.14,13.62 L469.3,12.29 L469.47,11.56 L469.63,11.45 L469.8,11.94 L469.96,13.05 L470.13,14.75 L470.29,17.02 L470.46,19.86 L470.62,23.21 L470.79,27.06 L470.95,31.37 L471.12,36.08 L471.28,41.14 L471.44,46.52 L471.61,52.15 L471.77,57.98 L471.94,63.94 L472.1,69.97 L472.27,76.02 L472.43,82.02 L472.6,87.9 L472.76,93.62 L472.93,99.11 L473.09,104.31 L473.26,109.17 L473.42,113.64 L473.59,117.68 L473.75,121.24 L473.92,124.29 L474.08,126.8 L474.25,128.73 L474.41,130.08 L474.57,130.83 L474.74,130.96 L474.9,130.48 L475.07,129.4 L475.23,127.72 L475.4,125.46 L475.56,122.64 L475.73,119.3 L475.89,115.46 L476.06,111.18 L476.22,106.48 L476.39,101.42 L476.55,96.05 L476.72,90.43 L476.88,84.61 L477.05,78.65 L477.21,72.62 L477.38,66.57 L477.54,60.57 L477.7,54.68 L477.87,48.96 L478.03,43.46 L478.2,38.25 L478.36,33.38 L478.53,28.89 L478.69,24.84 L478.86,21.26 L479.02,18.2 L479.19,15.67 L479.35,13.72 L479.52,12.35 L479.68,11.59 L479.85,11.44 L480.01,11.89 L480.18,12.96 L480.34,14.62 L480.5,16.87 L480.67,19.66 L480.83,22.99 L481,26.81 L481.16,31.08 L481.33,35.77 L481.49,40.82 L481.66,46.18 L481.82,51.79 L481.99,57.61 L482.15,63.56 L482.32,69.59 L482.48,75.64 L482.65,81.64 L482.81,87.54 L482.98,93.27 L483.14,98.77 L483.31,103.99 L483.47,108.87 L483.63,113.37 L483.8,117.44 L483.96,121.03 L484.13,124.12 L484.29,126.66 L484.46,128.63 L484.62,130.01 L484.79,130.8 L484.95,130.97 L485.12,130.53 L485.28,129.48 L485.45,127.84 L485.61,125.61 L485.78,122.83 L485.94,119.52 L486.11,115.72 L486.27,111.46 L486.43,106.78 L486.6,101.74 L486.76,96.39 L486.93,90.79 L487.09,84.98 L487.26,79.03 L487.42,73 L487.59,66.95 L487.75,60.94 L487.92,55.04 L488.08,49.31 L488.25,43.8 L488.41,38.57 L488.58,33.67 L488.74,29.16 L488.91,25.08 L489.07,21.47 L489.24,18.37 L489.4,15.81 L489.56,13.82 L489.73,12.42 L489.89,11.62 L490.06,11.43 L490.22,11.85 L490.39,12.88 L490.55,14.5 L490.72,16.71 L490.88,19.47 L491.05,22.77 L491.21,26.56 L491.38,30.8 L491.54,35.47 L491.71,40.49 L491.87,45.83 L492.04,51.44 L492.2,57.24 L492.36,63.19 L492.53,69.21 L492.69,75.26 L492.86,81.27 L493.02,87.18 L493.19,92.92 L493.35,98.43 L493.52,103.67 L493.68,108.58 L493.85,113.1 L494.01,117.2 L494.18,120.82 L494.34,123.94 L494.51,126.51 L494.67,128.52 L494.84,129.95 L495,130.77 L495.17,130.98 L495.33,130.57 L495.49,129.57 L495.66,127.96 L495.82,125.77 L495.99,123.02 L496.15,119.74 L496.32,115.97 L496.48,111.73 L496.65,107.09 L496.81,102.07 L496.98,96.74 L497.14,91.14 L497.31,85.34 L497.47,79.4 L497.64,73.37 L497.8,67.33 L497.97,61.32 L498.13,55.41 L498.29,49.66 L498.46,44.13 L498.62,38.89 L498.79,33.97 L498.95,29.43 L499.12,25.32 L499.28,21.68 L499.45,18.55 L499.61,15.96 L499.78,13.93 L499.94,12.49 L500.11,11.65 L500.27,11.42 L500.44,11.8 L500.6,12.79 L500.77,14.38 L500.93,16.55 L501.1,19.28 L501.26,22.55 L501.42,26.31 L501.59,30.53 L501.75,35.16 L501.92,40.17 L502.08,45.49 L502.25,51.08 L502.41,56.87 L502.58,62.81 L502.74,68.84 L502.91,74.89 L503.07,80.9 L503.24,86.81 L503.4,92.56 L503.57,98.1 L503.73,103.36 L503.9,108.28 L504.06,112.83 L504.23,116.96 L504.39,120.61 L504.55,123.76 L504.72,126.37 L504.88,128.41 L505.05,129.87 L505.21,130.73 L505.38,130.98 L505.54,130.62 L505.71,129.65 L505.87,128.08 L506.04,125.92 L506.2,123.21 L506.37,119.96 L506.53,116.22 L506.7,112.01 L506.86,107.39 L507.03,102.39 L507.19,97.08 L507.35,91.5 L507.52,85.71 L507.68,79.78 L507.85,73.75 L508.01,67.7 L508.18,61.69 L508.34,55.77 L508.51,50.01 L508.67,44.47 L508.84,39.2 L509,34.26 L509.17,29.7 L509.33,25.57 L509.5,21.9 L509.66,18.73 L509.83,16.1 L509.99,14.04 L510.16,12.56 L510.32,11.69 L510.48,11.42 L510.65,11.76 L510.81,12.71 L510.98,14.27 L511.14,16.4 L511.31,19.1 L511.47,22.33 L511.64,26.06 L511.8,30.25 L511.97,34.86 L512.13,39.85 L512.3,45.15 L512.46,50.72 L512.63,56.5 L512.79,62.44 L512.96,68.46 L513.12,74.51 L513.28,80.52 L513.45,86.44 L513.61,92.21 L513.78,97.76 L513.94,103.04 L514.11,107.99 L514.27,112.56 L514.44,116.71 L514.6,120.4 L514.77,123.58 L514.93,126.22 L515.1,128.3 L515.26,129.8 L515.43,130.7 L515.59,130.98 L515.76,130.66 L515.92,129.72 L516.09,128.19 L516.25,126.07 L516.41,123.39 L516.58,120.18 L516.74,116.47 L516.91,112.29 L517.07,107.69 L517.24,102.71 L517.4,97.42 L517.57,91.85 L517.73,86.08 L517.9,80.15 L518.06,74.13 L518.23,68.08 L518.39,62.06 L518.56,56.14 L518.72,50.37 L518.89,44.81 L519.05,39.52 L519.21,34.56 L519.38,29.98 L519.54,25.81 L519.71,22.11 L519.87,18.91 L520.04,16.25 L520.2,14.15 L520.37,12.64 L520.53,11.72 L520.7,11.42 L520.86,11.72 L521.03,12.64 L521.19,14.15 L521.36,16.25 L521.52,18.91 L521.69,22.11 L521.85,25.81 L522.02,29.98 L522.18,34.56 L522.34,39.52 L522.51,44.81 L522.67,50.37 L522.84,56.14 L523,62.06 L523.17,68.08 L523.33,74.13 L523.5,80.15 L523.66,86.08 L523.83,91.85 L523.99,97.42 L524.16,102.71 L524.32,107.69 L524.49,112.29 L524.65,116.47 L524.82,120.18 L524.98,123.39 L525.14,126.07 L525.31,128.19 L525.47,129.72 L525.64,130.66 L525.8,130.98 L525.97,130.7 L526.13,129.8 L526.3,128.3 L526.46,126.22 L526.63,123.58 L526.79,120.4 L526.96,116.71 L527.12,112.56 L527.29,107.99 L527.45,103.04 L527.62,97.76 L527.78,92.21 L527.95,86.44 L528.11,80.52 L528.27,74.51 L528.44,68.46 L528.6,62.44 L528.77,56.5 L528.93,50.72 L529.1,45.15 L529.26,39.85 L529.43,34.86 L529.59,30.25 L529.76,26.06 L529.92,22.33 L530.09,19.1 L530.25,16.4 L530.42,14.27 L530.58,12.71 L530.75,11.76 L530.91,11.42 L531.08,11.69 L531.24,12.56 L531.4,14.04 L531.57,16.1 L531.73,18.73 L531.9,21.9 L532.06,25.57 L532.23,29.7 L532.39,34.26 L532.56,39.2 L532.72,44.47 L532.89,50.01 L533.05,55.77 L533.22,61.69 L533.38,67.7 L533.55,73.75 L533.71,79.78 L533.88,85.71 L534.04,91.5 L534.2,97.08 L534.37,102.39 L534.53,107.39 L534.7,112.01 L534.86,116.22 L535.03,119.96 L535.19,123.21 L535.36,125.92 L535.52,128.08 L535.69,129.65 L535.85,130.62 L536.02,130.98 L536.18,129.54 L536.35,127.95 L536.51,126.36 L536.68,124.77 L536.84,123.19 L537.01,121.62 L537.17,120.06 L537.33,118.51 L537.5,116.97 L537.66,115.44 L537.83,113.92 L537.99,112.43 L538.16,110.95 L538.32,109.48 L538.49,108.04 L538.65,106.62 L538.82,105.22 L538.98,103.85 L539.15,102.5 L539.31,101.18 L539.48,99.89 L539.64,98.62 L539.81,97.39 L539.97,96.19 L540.13,95.02 L540.3,93.88 L540.46,92.78 L540.63,91.71 L540.79,90.68 L540.96,89.69 L541.12,88.73 L541.29,87.82 L541.45,86.95 L541.62,86.11 L541.78,85.32 L541.95,84.57 L542.11,83.87 L542.28,83.21 L542.44,82.59 L542.61,82.02 L542.77,81.49 L542.94,81.01 L543.1,80.58 L543.26,80.2 L543.43,79.86 L543.59,79.57 L543.76,79.32 L543.92,79.13 L544.09,78.98 L544.25,78.89 L544.42,78.84" stroke="#f00"/>
</g>
<g fill="none" stroke-width="1.3" stroke-linejoin="round" clip-path="url(#cc)">
<path d="M43.45,311.4 L43.7,309.28 L43.94,307.11 L44.19,304.89 L44.44,302.62 L44.69,300.3 L44.93,297.93 L45.18,295.52 L45.43,293.07 L45.68,290.58 L45.92,288.04 L46.17,285.47 L46.42,282.86 L46.66,280.22 L46.91,277.54 L47.16,274.83 L47.41,272.1 L47.6,269.93 L47.65,269.33 L47.9,266.36 L48.15,263.17 L48.4,259.82 L48.64,256.39 L48.89,252.93 L49.14,249.52 L49.38,246.22 L49.63,243.1 L49.88,240.23 L50.13,237.67 L50.3,236.09 L50.37,235.48 L50.62,233.43 L50.87,231.49 L51.11,229.68 L51.36,228.04 L51.61,226.6 L51.86,225.39 L52,224.81 L52.1,224.43 L52.35,223.55 L52.6,222.76 L52.85,222.13 L53.09,221.73 L53.2,221.64 L53.34,221.56 L53.59,221.45 L53.83,221.37 L54.08,221.31 L54.33,221.27 L54.58,221.23 L54.82,221.19 L55.07,221.15 L55.32,221.1 L55.57,221.03 L55.81,220.93 L56,220.84 L56.06,220.79 L56.31,220.1 L56.55,218.79 L56.8,216.99 L57.05,214.83 L57.3,212.47 L57.54,210.03 L57.79,207.65 L58.04,205.48 L58.29,203.65 L58.53,202.29 L58.78,201.55 L58.9,201.46 L59.03,201.5 L59.27,201.83 L59.52,202.45 L59.77,203.31 L60.02,204.37 L60.26,205.61 L60.51,206.97 L60.76,208.42 L61.01,209.92 L61.25,211.43 L61.5,212.91 L61.75,214.32 L61.99,215.62 L62.24,216.77 L62.49,217.73 L62.74,218.46 L62.98,218.93 L63.23,219.09 L63.23,219.09 L63.48,219 L63.73,218.75 L63.97,218.34 L64.22,217.8 L64.47,217.13 L64.71,216.36 L64.96,215.5 L65.21,214.56 L65.46,213.56 L65.7,212.52 L65.95,211.44 L66.2,210.35 L66.44,209.26 L66.69,208.18 L66.94,207.13 L67.19,206.12 L67.43,205.18 L67.68,204.31 L67.93,203.52 L68.18,202.84 L68.42,202.28 L68.67,201.85 L68.92,201.57 L69.16,201.46 L69.2,201.46 L69.41,201.51 L69.66,201.7 L69.91,202.03 L70.15,202.47 L70.4,203.03 L70.65,203.68 L70.9,204.42 L71.14,205.24 L71.39,206.13 L71.64,207.08 L71.88,208.07 L72.13,209.09 L72.38,210.14 L72.63,211.21 L72.87,212.27 L73.12,213.33 L73.37,214.38 L73.62,215.39 L73.86,216.37 L74.11,217.29 L74.36,218.15 L74.6,218.95 L74.85,219.66 L75.1,220.28 L75.35,220.79 L75.59,221.2 L75.84,221.48 L76.09,221.62 L76.21,221.64 L76.34,221.55 L76.58,220.91 L76.83,219.75 L77.08,218.17 L77.32,216.26 L77.57,214.14 L77.82,211.89 L78.07,209.63 L78.31,207.46 L78.56,205.48 L78.81,203.78 L79.06,202.48 L79.3,201.68 L79.5,201.46 L79.55,201.46 L79.8,201.69 L80.04,202.21 L80.29,202.99 L80.54,204 L80.79,205.18 L81.03,206.5 L81.28,207.93 L81.53,209.42 L81.77,210.93 L82.02,212.42 L82.27,213.86 L82.52,215.2 L82.76,216.4 L83.01,217.43 L83.26,218.25 L83.51,218.81 L83.75,219.08 L83.83,219.09 L84,219.05 L84.25,218.85 L84.49,218.49 L84.74,217.99 L84.99,217.36 L85.24,216.63 L85.48,215.8 L85.73,214.88 L85.98,213.9 L86.23,212.87 L86.47,211.8 L86.72,210.72 L86.97,209.62 L87.21,208.54 L87.46,207.48 L87.71,206.45 L87.96,205.49 L88.2,204.59 L88.45,203.77 L88.7,203.06 L88.95,202.45 L89.19,201.98 L89.44,201.65 L89.69,201.48 L89.81,201.46 L89.93,201.48 L90.18,201.63 L90.43,201.91 L90.68,202.31 L90.92,202.83 L91.17,203.45 L91.42,204.17 L91.67,204.96 L91.91,205.83 L92.16,206.76 L92.41,207.73 L92.65,208.75 L92.9,209.79 L93.15,210.85 L93.4,211.92 L93.64,212.98 L93.89,214.03 L94.14,215.06 L94.38,216.05 L94.63,216.99 L94.88,217.87 L95.13,218.69 L95.37,219.43 L95.62,220.08 L95.87,220.63 L96.12,221.08 L96.36,221.4 L96.61,221.59 L96.81,221.64 L96.86,221.62 L97.1,221.19 L97.35,220.19 L97.6,218.74 L97.85,216.93 L98.09,214.86 L98.34,212.65 L98.59,210.38 L98.84,208.17 L99.08,206.11 L99.33,204.31 L99.58,202.87 L99.82,201.88 L100.07,201.47 L100.11,201.46 L100.32,201.58 L100.57,202.01 L100.81,202.71 L101.06,203.64 L101.31,204.77 L101.56,206.05 L101.8,207.45 L102.05,208.92 L102.3,210.42 L102.54,211.93 L102.79,213.39 L103.04,214.76 L103.29,216.02 L103.53,217.11 L103.78,218 L104.03,218.65 L104.28,219.02 L104.44,219.09 L104.52,219.08 L104.77,218.94 L105.02,218.63 L105.26,218.17 L105.51,217.59 L105.76,216.89 L106.01,216.08 L106.25,215.19 L106.5,214.23 L106.75,213.22 L107,212.16 L107.24,211.08 L107.49,209.99 L107.74,208.9 L107.98,207.83 L108.23,206.79 L108.48,205.8 L108.73,204.88 L108.97,204.03 L109.22,203.28 L109.47,202.64 L109.71,202.12 L109.96,201.74 L110.21,201.52 L110.41,201.46 L110.46,201.46 L110.7,201.56 L110.95,201.8 L111.2,202.16 L111.45,202.65 L111.69,203.24 L111.94,203.92 L112.19,204.69 L112.43,205.53 L112.68,206.44 L112.93,207.4 L113.18,208.41 L113.42,209.44 L113.67,210.5 L113.92,211.56 L114.17,212.63 L114.41,213.68 L114.66,214.72 L114.91,215.72 L115.15,216.68 L115.4,217.59 L115.65,218.43 L115.9,219.19 L116.14,219.88 L116.39,220.46 L116.64,220.94 L116.89,221.3 L117.13,221.54 L117.38,221.63 L117.42,221.64 L117.63,221.4 L117.87,220.58 L118.12,219.27 L118.37,217.56 L118.62,215.57 L118.86,213.4 L119.11,211.14 L119.36,208.89 L119.61,206.77 L119.85,204.87 L120.1,203.3 L120.35,202.15 L120.59,201.54 L120.71,201.46 L120.84,201.5 L121.09,201.83 L121.34,202.45 L121.58,203.31 L121.83,204.37 L122.08,205.61 L122.33,206.97 L122.57,208.42 L122.82,209.92 L123.07,211.43 L123.31,212.91 L123.56,214.32 L123.81,215.62 L124.06,216.77 L124.3,217.73 L124.55,218.46 L124.8,218.93 L125.04,219.09 L125.04,219.09 L125.29,219 L125.54,218.75 L125.79,218.34 L126.03,217.8 L126.28,217.13 L126.53,216.36 L126.78,215.5 L127.02,214.56 L127.27,213.56 L127.52,212.52 L127.76,211.44 L128.01,210.35 L128.26,209.26 L128.51,208.18 L128.75,207.13 L129,206.12 L129.25,205.18 L129.5,204.31 L129.74,203.52 L129.99,202.84 L130.24,202.28 L130.48,201.85 L130.73,201.57 L130.98,201.46 L131.02,201.46 L131.23,201.51 L131.47,201.7 L131.72,202.03 L131.97,202.47 L132.22,203.03 L132.46,203.68 L132.71,204.42 L132.96,205.24 L133.2,206.13 L133.45,207.08 L133.7,208.07 L133.95,209.09 L134.19,210.14 L134.44,211.21 L134.69,212.27 L134.94,213.33 L135.18,214.38 L135.43,215.39 L135.68,216.37 L135.92,217.29 L136.17,218.15 L136.42,218.95 L136.67,219.66 L136.91,220.28 L137.16,220.79 L137.41,221.2 L137.65,221.48 L137.9,221.62 L138.02,221.64 L138.15,221.55 L138.4,220.91 L138.64,219.75 L138.89,218.17 L139.14,216.26 L139.39,214.14 L139.63,211.89 L139.88,209.63 L140.13,207.46 L140.37,205.48 L140.62,203.78 L140.87,202.48 L141.12,201.68 L141.32,201.46 L141.36,201.46 L141.61,201.69 L141.86,202.21 L142.11,202.99 L142.35,204 L142.6,205.18 L142.85,206.5 L143.09,207.93 L143.34,209.42 L143.59,210.93 L143.84,212.42 L144.08,213.86 L144.33,215.2 L144.58,216.4 L144.83,217.43 L145.07,218.25 L145.32,218.81 L145.57,219.08 L145.65,219.09 L145.81,219.05 L146.06,218.85 L146.31,218.49 L146.56,217.99 L146.8,217.36 L147.05,216.63 L147.3,215.8 L147.55,214.88 L147.79,213.9 L148.04,212.87 L148.29,211.8 L148.53,210.72 L148.78,209.62 L149.03,208.54 L149.28,207.48 L149.52,206.45 L149.77,205.49 L150.02,204.59 L150.27,203.77 L150.51,203.06 L150.76,202.45 L151.01,201.98 L151.25,201.65 L151.5,201.48 L151.62,201.46 L151.75,201.48 L152,201.63 L152.24,201.91 L152.49,202.31 L152.74,202.83 L152.98,203.45 L153.23,204.17 L153.48,204.96 L153.73,205.83 L153.97,206.76 L154.22,207.73 L154.47,208.75 L154.72,209.79 L154.96,210.85 L155.21,211.92 L155.46,212.98 L155.7,214.03 L155.95,215.06 L156.2,216.05 L156.45,216.99 L156.69,217.87 L156.94,218.69 L157.19,219.43 L157.44,220.08 L157.68,220.63 L157.93,221.08 L158.18,221.4 L158.42,221.59 L158.63,221.64 L158.67,221.62 L158.92,221.19 L159.17,220.19 L159.41,218.74 L159.66,216.93 L159.91,214.86 L160.16,212.65 L160.4,210.38 L160.65,208.17 L160.9,206.11 L161.14,204.31 L161.39,202.87 L161.64,201.88 L161.89,201.47 L161.92,201.46 L162.13,201.58 L162.38,202.01 L162.63,202.71 L162.88,203.64 L163.12,204.77 L163.37,206.05 L163.62,207.45 L163.86,208.92 L164.11,210.42 L164.36,211.93 L164.61,213.39 L164.85,214.76 L165.1,216.02 L165.35,217.11 L165.6,218 L165.84,218.65 L166.09,219.02 L166.25,219.09 L166.34,219.08 L166.58,218.94 L166.83,218.63 L167.08,218.17 L167.33,217.59 L167.57,216.89 L167.82,216.08 L168.07,215.19 L168.31,214.23 L168.56,213.22 L168.81,212.16 L169.06,211.08 L169.3,209.99 L169.55,208.9 L169.8,207.83 L170.05,206.79 L170.29,205.8 L170.54,204.88 L170.79,204.03 L171.03,203.28 L171.28,202.64 L171.53,202.12 L171.78,201.74 L172.02,201.52 L172.23,201.46 L172.27,201.46 L172.52,201.56 L172.77,201.8 L173.01,202.16 L173.26,202.65 L173.51,203.24 L173.75,203.92 L174,204.69 L174.25,205.53 L174.5,206.44 L174.74,207.4 L174.99,208.41 L175.24,209.44 L175.49,210.5 L175.73,211.56 L175.98,212.63 L176.23,213.68 L176.47,214.72 L176.72,215.72 L176.97,216.68 L177.22,217.59 L177.46,218.43 L177.71,219.19 L177.96,219.88 L178.21,220.46 L178.45,220.94 L178.7,221.3 L178.95,221.54 L179.19,221.63 L179.23,221.64 L179.44,221.4 L179.69,220.58 L179.94,219.27 L180.18,217.56 L180.43,215.57 L180.68,213.4 L180.92,211.14 L181.17,208.89 L181.42,206.77 L181.67,204.87 L181.91,203.3 L182.16,202.15 L182.41,201.54 L182.53,201.46 L182.66,201.5 L182.9,201.83 L183.15,202.45 L183.4,203.31 L183.64,204.37 L183.89,205.61 L184.14,206.97 L184.39,208.42 L184.63,209.92 L184.88,211.43 L185.13,212.91 L185.38,214.32 L185.62,215.62 L185.87,216.77 L186.12,217.73 L186.36,218.46 L186.61,218.93 L186.86,219.09 L186.86,219.09 L187.11,219 L187.35,218.75 L187.6,218.34 L187.85,217.8 L188.1,217.13 L188.34,216.36 L188.59,215.5 L188.84,214.56 L189.08,213.56 L189.33,212.52 L189.58,211.44 L189.83,210.35 L190.07,209.26 L190.32,208.18 L190.57,207.13 L190.82,206.12 L191.06,205.18 L191.31,204.31 L191.56,203.52 L191.8,202.84 L192.05,202.28 L192.3,201.85 L192.55,201.57 L192.79,201.46 L192.83,201.46 L193.04,201.51 L193.29,201.7 L193.54,202.03 L193.78,202.47 L194.03,203.03 L194.28,203.68 L194.52,204.42 L194.77,205.24 L195.02,206.13 L195.27,207.08 L195.51,208.07 L195.76,209.09 L196.01,210.14 L196.25,211.21 L196.5,212.27 L196.75,213.33 L197,214.38 L197.24,215.39 L197.49,216.37 L197.74,217.29 L197.99,218.15 L198.23,218.95 L198.48,219.66 L198.73,220.28 L198.97,220.79 L199.22,221.2 L199.47,221.48 L199.72,221.62 L199.84,221.64 L199.96,221.55 L200.21,220.91 L200.46,219.75 L200.71,218.17 L200.95,216.26 L201.2,214.14 L201.45,211.89 L201.69,209.63 L201.94,207.46 L202.19,205.48 L202.44,203.78 L202.68,202.48 L202.93,201.68 L203.13,201.46 L203.18,201.46 L203.43,201.69 L203.67,202.21 L203.92,202.99 L204.17,204 L204.41,205.18 L204.66,206.5 L204.91,207.93 L205.16,209.42 L205.4,210.93 L205.65,212.42 L205.9,213.86 L206.15,215.2 L206.39,216.4 L206.64,217.43 L206.89,218.25 L207.13,218.81 L207.38,219.08 L207.46,219.09 L207.63,219.05 L207.88,218.85 L208.12,218.49 L208.37,217.99 L208.62,217.36 L208.87,216.63 L209.11,215.8 L209.36,214.88 L209.61,213.9 L209.85,212.87 L210.1,211.8 L210.35,210.72 L210.6,209.62 L210.84,208.54 L211.09,207.48 L211.34,206.45 L211.58,205.49 L211.83,204.59 L212.08,203.77 L212.33,203.06 L212.57,202.45 L212.82,201.98 L213.07,201.65 L213.32,201.48 L213.44,201.46 L213.56,201.48 L213.81,201.63 L214.06,201.91 L214.3,202.31 L214.55,202.83 L214.8,203.45 L215.05,204.17 L215.29,204.96 L215.54,205.83 L215.79,206.76 L216.04,207.73 L216.28,208.75 L216.53,209.79 L216.78,210.85 L217.02,211.92 L217.27,212.98 L217.52,214.03 L217.77,215.06 L218.01,216.05 L218.26,216.99 L218.51,217.87 L218.76,218.69 L219,219.43 L219.25,220.08 L219.5,220.63 L219.74,221.08 L219.99,221.4 L220.24,221.59 L220.44,221.64 L220.49,221.62 L220.73,221.19 L220.98,220.19 L221.23,218.74 L221.48,216.93 L221.72,214.86 L221.97,212.65 L222.22,210.38 L222.46,208.17 L222.71,206.11 L222.96,204.31 L223.21,202.87 L223.45,201.88 L223.7,201.47 L223.74,201.46 L223.95,201.58 L224.19,202.01 L224.44,202.71 L224.69,203.64 L224.94,204.77 L225.18,206.05 L225.43,207.45 L225.68,208.92 L225.93,210.42 L226.17,211.93 L226.42,213.39 L226.67,214.76 L226.91,216.02 L227.16,217.11 L227.41,218 L227.66,218.65 L227.9,219.02 L228.07,219.09 L228.15,219.08 L228.4,218.94 L228.65,218.63 L228.89,218.17 L229.14,217.59 L229.39,216.89 L229.63,216.08 L229.88,215.19 L230.13,214.23 L230.38,213.22 L230.62,212.16 L230.87,211.08 L231.12,209.99 L231.37,208.9 L231.61,207.83 L231.86,206.79 L232.11,205.8 L232.35,204.88 L232.6,204.03 L232.85,203.28 L233.1,202.64 L233.34,202.12 L233.59,201.74 L233.84,201.52 L234.04,201.46 L234.09,201.46 L234.33,201.56 L234.58,201.8 L234.83,202.16 L235.07,202.65 L235.32,203.24 L235.57,203.92 L235.82,204.69 L236.06,205.53 L236.31,206.44 L236.56,207.4 L236.81,208.41 L237.05,209.44 L237.3,210.5 L237.55,211.56 L237.79,212.63 L238.04,213.68 L238.29,214.72 L238.54,215.72 L238.78,216.68 L239.03,217.59 L239.28,218.43 L239.52,219.19 L239.77,219.88 L240.02,220.46 L240.27,220.94 L240.51,221.3 L240.76,221.54 L241.01,221.63 L241.05,221.64 L241.26,221.4 L241.5,220.58 L241.75,219.27 L242,217.56 L242.24,215.57 L242.49,213.4 L242.74,211.14 L242.99,208.89 L243.23,206.77 L243.48,204.87 L243.73,203.3 L243.98,202.15 L244.22,201.54 L244.34,201.46 L244.47,201.49 L244.72,201.73 L244.96,202.18 L245.21,202.81 L245.46,203.61 L245.71,204.55 L245.95,205.61 L246.2,206.75 L246.45,207.97 L246.7,209.23 L246.94,210.51 L247.19,211.78 L247.44,213.03 L247.68,214.23 L247.93,215.35 L248.18,216.37 L248.4,217.19 L248.43,217.28 L248.67,218.08 L248.92,218.82 L249.17,219.52 L249.42,220.2 L249.66,220.88 L249.91,221.57 L250.16,222.3 L250.4,223.08 L250.65,223.93 L250.9,224.87 L251,225.29 L251.15,225.93 L251.39,227.13 L251.64,228.47 L251.89,229.93 L252.14,231.5 L252.38,233.17 L252.63,234.92 L252.88,236.75 L253,237.68 L253.12,238.66 L253.37,240.78 L253.62,243.08 L253.87,245.54 L254.11,248.1 L254.3,250.07 L254.36,250.72 L254.61,253.51 L254.85,256.48 L255.1,259.58 L255.35,262.79 L255.6,266.06 L255.84,269.36 L256.09,272.64 L256.34,275.86 L256.59,278.99 L256.83,281.98 L257.08,284.81 L257.1,285.03 L257.33,287.5 L257.57,290.14 L257.82,292.73 L258.07,295.26 L258.32,297.75 L258.56,300.17 L258.81,302.54 L259.06,304.85 L259.31,307.1 L259.55,309.28 L259.8,311.4 L259.8,311.4" stroke="#000"/>
<path d="M43.45,311.4 L43.7,310.1 L43.94,308.71 L44.19,307.22 L44.44,305.64 L44.69,303.97 L44.93,302.21 L45.18,300.38 L45.43,298.47 L45.68,296.49 L45.92,294.44 L46.17,292.33 L46.42,290.15 L46.66,287.92 L46.91,285.64 L47.16,283.3 L47.41,280.92 L47.65,278.5 L47.9,276.04 L48.15,273.54 L48.4,271.01 L48.5,269.93 L48.64,268.41 L48.89,265.55 L49.14,262.46 L49.38,259.2 L49.63,255.8 L49.88,252.35 L50.13,248.87 L50.37,245.44 L50.62,242.1 L50.87,238.91 L51.1,236.09 L51.11,235.92 L51.36,232.93 L51.61,229.84 L51.86,226.78 L52.1,223.85 L52.35,221.2 L52.6,218.93 L52.85,217.17 L52.9,216.87 L53.09,215.84 L53.34,214.57 L53.59,213.49 L53.83,212.73 L54.08,212.42 L54.1,212.42 L54.33,212.63 L54.58,213.24 L54.82,214.09 L55.07,215.02 L55.32,215.87 L55.57,216.49 L55.8,216.71 L55.81,216.71 L56.06,216.65 L56.31,216.48 L56.55,216.24 L56.8,215.94 L57.05,215.61 L57.3,215.27 L57.54,214.93 L57.79,214.63 L58.04,214.39 L58.29,214.22 L58.4,214.17 L58.53,214.13 L58.78,214.08 L59.03,214.03 L59.27,214 L59.52,213.96 L59.77,213.91 L60,213.85 L60.02,213.85 L60.26,213.69 L60.51,213.42 L60.76,213.04 L61.01,212.57 L61.25,212.02 L61.5,211.4 L61.75,210.73 L61.99,210.01 L62.24,209.27 L62.49,208.51 L62.74,207.75 L62.98,206.99 L63.23,206.27 L63.48,205.58 L63.73,204.94 L63.97,204.36 L64.22,203.86 L64.47,203.45 L64.71,203.14 L64.96,202.95 L65.2,202.89 L65.21,202.89 L65.46,203.01 L65.7,203.35 L65.95,203.86 L66.2,204.54 L66.44,205.34 L66.69,206.24 L66.94,207.22 L67.19,208.24 L67.43,209.28 L67.68,210.31 L67.93,211.3 L68.18,212.23 L68.42,213.07 L68.67,213.79 L68.92,214.36 L69.16,214.75 L69.41,214.95 L69.5,214.96 L69.66,214.91 L69.91,214.62 L70.15,214.12 L70.4,213.43 L70.65,212.59 L70.9,211.62 L71.14,210.56 L71.39,209.43 L71.64,208.27 L71.88,207.11 L72.13,205.98 L72.38,204.91 L72.63,203.93 L72.87,203.07 L73.12,202.36 L73.37,201.84 L73.62,201.53 L73.8,201.46 L73.86,201.47 L74.11,201.81 L74.36,202.54 L74.6,203.61 L74.85,204.96 L75.1,206.52 L75.35,208.24 L75.59,210.06 L75.84,211.91 L76.09,213.74 L76.34,215.5 L76.58,217.11 L76.83,218.52 L77.08,219.66 L77.32,220.49 L77.57,220.94 L77.7,221 L77.82,220.95 L78.07,220.53 L78.31,219.79 L78.56,218.84 L78.81,217.79 L79.06,216.75 L79.3,215.83 L79.55,215.15 L79.8,214.81 L79.8,214.8 L80.04,214.7 L80.29,214.62 L80.54,214.57 L80.79,214.52 L81.03,214.46 L81.28,214.38 L81.4,214.33 L81.53,214.24 L81.77,213.92 L82.02,213.43 L82.27,212.79 L82.52,212.03 L82.76,211.17 L83.01,210.25 L83.26,209.28 L83.51,208.29 L83.75,207.32 L84,206.38 L84.25,205.5 L84.49,204.7 L84.74,204.02 L84.99,203.47 L85.24,203.1 L85.48,202.91 L85.58,202.89 L85.73,202.93 L85.98,203.18 L86.23,203.62 L86.47,204.23 L86.72,204.98 L86.97,205.85 L87.21,206.8 L87.46,207.8 L87.71,208.84 L87.96,209.88 L88.2,210.89 L88.45,211.85 L88.7,212.73 L88.95,213.5 L89.19,214.14 L89.44,214.61 L89.69,214.89 L89.88,214.96 L89.93,214.96 L90.18,214.77 L90.43,214.36 L90.68,213.75 L90.92,212.96 L91.17,212.04 L91.42,211.02 L91.67,209.91 L91.91,208.76 L92.16,207.6 L92.41,206.45 L92.65,205.35 L92.9,204.33 L93.15,203.42 L93.4,202.64 L93.64,202.04 L93.89,201.63 L94.14,201.46 L94.18,201.46 L94.38,201.61 L94.63,202.19 L94.88,203.12 L95.13,204.35 L95.37,205.83 L95.62,207.49 L95.87,209.28 L96.12,211.12 L96.36,212.97 L96.61,214.77 L96.86,216.44 L97.1,217.95 L97.35,219.21 L97.6,220.18 L97.85,220.8 L98.08,221 L98.09,221 L98.34,220.75 L98.59,220.14 L98.84,219.26 L99.08,218.24 L99.33,217.18 L99.58,216.2 L99.82,215.4 L100.07,214.9 L100.18,214.8 L100.32,214.74 L100.57,214.65 L100.81,214.59 L101.06,214.54 L101.31,214.49 L101.56,214.42 L101.78,214.33 L101.8,214.32 L102.05,214.08 L102.3,213.65 L102.54,213.07 L102.79,212.36 L103.04,211.54 L103.29,210.65 L103.53,209.69 L103.78,208.71 L104.03,207.73 L104.28,206.77 L104.52,205.86 L104.77,205.03 L105.02,204.29 L105.26,203.69 L105.51,203.23 L105.76,202.96 L105.96,202.89 L106.01,202.89 L106.25,203.05 L106.5,203.41 L106.75,203.96 L107,204.65 L107.24,205.47 L107.49,206.39 L107.74,207.37 L107.98,208.4 L108.23,209.44 L108.48,210.46 L108.73,211.45 L108.97,212.37 L109.22,213.19 L109.47,213.88 L109.71,214.43 L109.96,214.8 L110.21,214.96 L110.26,214.96 L110.46,214.88 L110.7,214.56 L110.95,214.03 L111.2,213.31 L111.45,212.45 L111.69,211.46 L111.94,210.39 L112.19,209.26 L112.43,208.09 L112.68,206.94 L112.93,205.81 L113.18,204.75 L113.42,203.79 L113.67,202.95 L113.92,202.27 L114.17,201.78 L114.41,201.5 L114.56,201.46 L114.66,201.5 L114.91,201.9 L115.15,202.68 L115.4,203.8 L115.65,205.18 L115.9,206.77 L116.14,208.51 L116.39,210.33 L116.64,212.19 L116.89,214.02 L117.13,215.75 L117.38,217.33 L117.63,218.71 L117.87,219.81 L118.12,220.58 L118.37,220.97 L118.46,221 L118.62,220.91 L118.86,220.43 L119.11,219.66 L119.36,218.69 L119.61,217.63 L119.85,216.6 L120.1,215.71 L120.35,215.07 L120.56,214.8 L120.59,214.79 L120.84,214.68 L121.09,214.61 L121.34,214.56 L121.58,214.51 L121.83,214.45 L122.08,214.36 L122.16,214.33 L122.33,214.2 L122.57,213.85 L122.82,213.34 L123.07,212.68 L123.31,211.9 L123.56,211.04 L123.81,210.1 L124.06,209.13 L124.3,208.15 L124.55,207.17 L124.8,206.24 L125.04,205.37 L125.29,204.59 L125.54,203.93 L125.79,203.41 L126.03,203.05 L126.28,202.89 L126.34,202.89 L126.53,202.96 L126.78,203.24 L127.02,203.71 L127.27,204.34 L127.52,205.11 L127.76,205.99 L128.01,206.95 L128.26,207.96 L128.51,208.99 L128.75,210.03 L129,211.04 L129.25,211.99 L129.5,212.85 L129.74,213.61 L129.99,214.22 L130.24,214.66 L130.48,214.92 L130.64,214.96 L130.73,214.94 L130.98,214.72 L131.23,214.28 L131.47,213.64 L131.72,212.83 L131.97,211.89 L132.22,210.85 L132.46,209.74 L132.71,208.59 L132.96,207.43 L133.2,206.28 L133.45,205.19 L133.7,204.18 L133.95,203.29 L134.19,202.54 L134.44,201.96 L134.69,201.59 L134.94,201.46 L134.94,201.46 L135.18,201.68 L135.43,202.31 L135.68,203.29 L135.92,204.56 L136.17,206.07 L136.42,207.76 L136.67,209.55 L136.91,211.4 L137.16,213.25 L137.41,215.03 L137.65,216.68 L137.9,218.15 L138.15,219.38 L138.4,220.3 L138.64,220.86 L138.84,221 L138.89,220.99 L139.14,220.68 L139.39,220.02 L139.63,219.11 L139.88,218.08 L140.13,217.03 L140.37,216.07 L140.62,215.31 L140.87,214.86 L140.94,214.8 L141.12,214.72 L141.36,214.64 L141.61,214.58 L141.86,214.53 L142.11,214.48 L142.35,214.41 L142.54,214.33 L142.6,214.29 L142.85,214.02 L143.09,213.58 L143.34,212.97 L143.59,212.24 L143.84,211.41 L144.08,210.5 L144.33,209.55 L144.58,208.56 L144.83,207.58 L145.07,206.63 L145.32,205.73 L145.57,204.91 L145.81,204.19 L146.06,203.61 L146.31,203.18 L146.56,202.94 L146.72,202.89 L146.8,202.9 L147.05,203.09 L147.3,203.48 L147.55,204.05 L147.79,204.77 L148.04,205.6 L148.29,206.53 L148.53,207.52 L148.78,208.55 L149.03,209.59 L149.28,210.62 L149.52,211.59 L149.77,212.5 L150.02,213.3 L150.27,213.98 L150.51,214.5 L150.76,214.84 L151.01,214.96 L151.02,214.96 L151.25,214.85 L151.5,214.49 L151.75,213.93 L152,213.19 L152.24,212.31 L152.49,211.31 L152.74,210.22 L152.98,209.08 L153.23,207.92 L153.48,206.76 L153.73,205.65 L153.97,204.6 L154.22,203.65 L154.47,202.84 L154.72,202.18 L154.96,201.72 L155.21,201.48 L155.32,201.46 L155.46,201.53 L155.7,201.99 L155.95,202.83 L156.2,203.99 L156.45,205.41 L156.69,207.02 L156.94,208.78 L157.19,210.62 L157.44,212.47 L157.68,214.29 L157.93,216 L158.18,217.56 L158.42,218.89 L158.67,219.95 L158.92,220.67 L159.17,220.99 L159.22,221 L159.41,220.86 L159.66,220.33 L159.91,219.52 L160.16,218.53 L160.4,217.47 L160.65,216.46 L160.9,215.6 L161.14,215 L161.32,214.8 L161.39,214.77 L161.64,214.67 L161.89,214.61 L162.13,214.55 L162.38,214.5 L162.63,214.44 L162.88,214.35 L162.92,214.33 L163.12,214.16 L163.37,213.79 L163.62,213.25 L163.86,212.57 L164.11,211.78 L164.36,210.9 L164.61,209.96 L164.85,208.98 L165.1,208 L165.35,207.03 L165.6,206.1 L165.84,205.25 L166.09,204.48 L166.34,203.84 L166.58,203.34 L166.83,203.02 L167.08,202.89 L167.1,202.89 L167.33,202.98 L167.57,203.29 L167.82,203.79 L168.07,204.45 L168.31,205.24 L168.56,206.13 L168.81,207.1 L169.06,208.11 L169.3,209.15 L169.55,210.19 L169.8,211.19 L170.05,212.12 L170.29,212.97 L170.54,213.71 L170.79,214.3 L171.03,214.72 L171.28,214.94 L171.4,214.96 L171.53,214.93 L171.78,214.67 L172.02,214.19 L172.27,213.53 L172.52,212.7 L172.77,211.74 L173.01,210.69 L173.26,209.57 L173.51,208.41 L173.75,207.25 L174,206.11 L174.25,205.03 L174.5,204.04 L174.74,203.17 L174.99,202.44 L175.24,201.89 L175.49,201.56 L175.7,201.46 L175.73,201.46 L175.98,201.75 L176.23,202.43 L176.47,203.46 L176.72,204.78 L176.97,206.32 L177.22,208.02 L177.46,209.83 L177.71,211.68 L177.96,213.52 L178.21,215.29 L178.45,216.92 L178.7,218.36 L178.95,219.54 L179.19,220.41 L179.44,220.91 L179.6,221 L179.69,220.97 L179.94,220.6 L180.18,219.89 L180.43,218.96 L180.68,217.92 L180.92,216.87 L181.17,215.94 L181.42,215.22 L181.67,214.83 L181.7,214.8 L181.91,214.71 L182.16,214.63 L182.41,214.58 L182.66,214.53 L182.9,214.47 L183.15,214.39 L183.3,214.33 L183.4,214.26 L183.64,213.97 L183.89,213.49 L184.14,212.87 L184.39,212.12 L184.63,211.28 L184.88,210.36 L185.13,209.4 L185.38,208.41 L185.62,207.44 L185.87,206.49 L186.12,205.6 L186.36,204.79 L186.61,204.1 L186.86,203.53 L187.11,203.13 L187.35,202.92 L187.48,202.89 L187.6,202.92 L187.85,203.14 L188.1,203.56 L188.34,204.15 L188.59,204.89 L188.84,205.74 L189.08,206.68 L189.33,207.68 L189.58,208.71 L189.83,209.75 L190.07,210.77 L190.32,211.73 L190.57,212.63 L190.82,213.41 L191.06,214.07 L191.31,214.56 L191.56,214.87 L191.78,214.96 L191.8,214.96 L192.05,214.81 L192.3,214.42 L192.55,213.83 L192.79,213.07 L193.04,212.16 L193.29,211.15 L193.54,210.05 L193.78,208.91 L194.03,207.74 L194.28,206.59 L194.52,205.48 L194.77,204.45 L195.02,203.52 L195.27,202.73 L195.51,202.1 L195.76,201.67 L196.01,201.47 L196.08,201.46 L196.25,201.57 L196.5,202.1 L196.75,202.99 L197,204.19 L197.24,205.64 L197.49,207.28 L197.74,209.05 L197.99,210.9 L198.23,212.75 L198.48,214.55 L198.73,216.25 L198.97,217.77 L199.22,219.07 L199.47,220.08 L199.72,220.74 L199.96,221 L199.98,221 L200.21,220.8 L200.46,220.23 L200.71,219.38 L200.95,218.37 L201.2,217.31 L201.45,216.31 L201.69,215.49 L201.94,214.94 L202.08,214.8 L202.19,214.75 L202.44,214.66 L202.68,214.6 L202.93,214.55 L203.18,214.5 L203.43,214.43 L203.67,214.33 L203.68,214.33 L203.92,214.12 L204.17,213.72 L204.41,213.15 L204.66,212.46 L204.91,211.65 L205.16,210.76 L205.4,209.81 L205.65,208.83 L205.9,207.85 L206.15,206.89 L206.39,205.97 L206.64,205.12 L206.89,204.38 L207.13,203.75 L207.38,203.28 L207.63,202.98 L207.86,202.89 L207.88,202.89 L208.12,203.02 L208.37,203.36 L208.62,203.88 L208.87,204.56 L209.11,205.36 L209.36,206.27 L209.61,207.25 L209.85,208.27 L210.1,209.31 L210.35,210.34 L210.6,211.33 L210.84,212.26 L211.09,213.09 L211.34,213.81 L211.58,214.37 L211.83,214.76 L212.08,214.95 L212.16,214.96 L212.33,214.9 L212.57,214.61 L212.82,214.1 L213.07,213.41 L213.32,212.56 L213.56,211.59 L213.81,210.52 L214.06,209.4 L214.3,208.24 L214.55,207.08 L214.8,205.95 L215.05,204.88 L215.29,203.9 L215.54,203.05 L215.79,202.34 L216.04,201.83 L216.28,201.53 L216.46,201.46 L216.53,201.48 L216.78,201.83 L217.02,202.57 L217.27,203.65 L217.52,205 L217.77,206.57 L218.01,208.29 L218.26,210.11 L218.51,211.97 L218.76,213.8 L219,215.55 L219.25,217.15 L219.5,218.55 L219.74,219.69 L219.99,220.51 L220.24,220.94 L220.36,221 L220.49,220.94 L220.73,220.51 L220.98,219.76 L221.23,218.81 L221.48,217.76 L221.72,216.72 L221.97,215.81 L222.22,215.13 L222.46,214.8 L222.46,214.8 L222.71,214.7 L222.96,214.62 L223.21,214.57 L223.45,214.52 L223.7,214.46 L223.95,214.38 L224.06,214.33 L224.19,214.23 L224.44,213.91 L224.69,213.41 L224.94,212.77 L225.18,212 L225.43,211.14 L225.68,210.22 L225.93,209.25 L226.17,208.27 L226.42,207.29 L226.67,206.35 L226.91,205.47 L227.16,204.68 L227.41,204 L227.66,203.46 L227.9,203.09 L228.15,202.9 L228.24,202.89 L228.4,202.94 L228.65,203.19 L228.89,203.64 L229.14,204.25 L229.39,205.01 L229.63,205.87 L229.88,206.83 L230.13,207.83 L230.38,208.87 L230.62,209.91 L230.87,210.92 L231.12,211.88 L231.37,212.75 L231.61,213.52 L231.86,214.15 L232.11,214.62 L232.35,214.9 L232.54,214.96 L232.6,214.95 L232.85,214.76 L233.1,214.34 L233.34,213.72 L233.59,212.94 L233.84,212.01 L234.09,210.98 L234.33,209.88 L234.58,208.73 L234.83,207.57 L235.07,206.42 L235.32,205.32 L235.57,204.3 L235.82,203.39 L236.06,202.62 L236.31,202.02 L236.56,201.63 L236.81,201.46 L236.84,201.46 L237.05,201.62 L237.3,202.17 L237.55,203.06 L237.79,204.24 L238.04,205.65 L238.29,207.24 L238.54,208.96 L238.78,210.74 L239.03,212.53 L239.28,214.28 L239.52,215.93 L239.77,217.43 L240.02,218.73 L240.27,219.76 L240.51,220.48 L240.76,220.82 L240.84,220.84 L241.01,220.79 L241.26,220.56 L241.5,220.18 L241.75,219.71 L242,219.19 L242.24,218.68 L242.49,218.23 L242.74,217.88 L242.99,217.69 L243.1,217.66 L243.23,217.68 L243.48,217.82 L243.73,218.04 L243.98,218.32 L244.22,218.63 L244.47,218.92 L244.72,219.18 L244.96,219.35 L245.2,219.41 L245.21,219.41 L245.46,219.34 L245.71,219.15 L245.95,218.87 L246.2,218.53 L246.45,218.15 L246.7,217.75 L246.94,217.36 L247.19,217 L247.44,216.71 L247.68,216.5 L247.93,216.4 L248,216.39 L248.18,216.49 L248.43,216.94 L248.67,217.68 L248.92,218.66 L249.17,219.82 L249.42,221.11 L249.66,222.45 L249.91,223.79 L250.16,225.08 L250.2,225.29 L250.4,226.32 L250.65,227.63 L250.9,229.01 L251.15,230.48 L251.39,232.02 L251.64,233.66 L251.89,235.38 L252.14,237.19 L252.2,237.68 L252.38,239.14 L252.63,241.3 L252.88,243.65 L253.12,246.13 L253.37,248.71 L253.5,250.07 L253.62,251.37 L253.87,254.25 L254.11,257.35 L254.36,260.6 L254.61,263.95 L254.85,267.34 L255.1,270.71 L255.35,274.01 L255.6,277.18 L255.84,280.18 L256.09,282.93 L256.3,285.03 L256.34,285.39 L256.59,287.71 L256.83,289.98 L257.08,292.2 L257.33,294.35 L257.57,296.45 L257.82,298.47 L258.07,300.42 L258.32,302.28 L258.56,304.06 L258.81,305.74 L259.06,307.32 L259.31,308.79 L259.55,310.16 L259.8,311.4 L259.8,311.4" stroke="#f00"/>
</g>
<g fill="none" stroke-width="1.3" stroke-linejoin="round" clip-path="url(#cd)">
<path d="M328.3,311.4 L328.6,311.34 L328.9,311.21 L329.2,311.03 L329.5,310.81 L329.8,310.56 L330.1,310.29 L330.4,309.95 L330.7,309.52 L331,309.01 L331.3,308.44 L331.6,307.82 L331.9,307.16 L332.2,306.46 L332.5,305.68 L332.8,304.8 L333.1,303.84 L333.4,302.79 L333.7,301.67 L334,300.48 L334.3,299.23 L334.6,297.94 L334.9,296.58 L335.2,294.99 L335.5,293.19 L335.8,291.27 L336.1,289.32 L336.4,287.45 L336.7,285.74 L337,284.26 L337.3,282.8 L337.6,281.36 L337.9,280.05 L338.2,278.95 L338.5,278.17 L338.8,277.71 L339.1,277.3 L339.4,276.94 L339.7,276.65 L340,276.45 L340.3,276.35 L340.4,276.35 L340.7,276.9 L341,277.45 L341.3,278.01 L341.6,278.56 L341.9,279.11 L342.2,279.67 L342.5,280.22 L342.8,280.77 L343.1,281.33 L343.4,281.88 L343.5,282.06 L343.75,281.52 L344,280.93 L344.25,280.31 L344.5,279.69 L344.75,279.06 L345,278.45 L345.25,277.84 L345.5,277.25 L345.75,276.68 L346,276.14 L346.25,275.62 L346.5,275.13 L346.75,274.68 L347,274.26 L347.25,273.88 L347.5,273.54 L347.75,273.24 L348,272.99 L348.25,272.78 L348.5,272.61 L348.75,272.49 L349,272.42 L349.25,272.4 L349.5,272.41 L349.75,272.48 L350,272.58 L350.25,272.73 L350.5,272.91 L350.75,273.13 L351,273.39 L351.25,273.68 L351.5,273.99 L351.75,274.34 L352,274.7 L352.25,275.08 L352.5,275.47 L352.75,275.87 L353,276.28 L353.25,276.68 L353.5,277.06 L353.75,277.41 L354,277.17 L354.25,276.61 L354.5,276.03 L354.75,275.44 L355,274.85 L355.25,274.26 L355.5,273.68 L355.75,273.12 L356,272.58 L356.25,272.06 L356.5,271.56 L356.75,271.1 L357,270.66 L357.25,270.27 L357.5,269.91 L357.75,269.59 L358,269.31 L358.25,269.07 L358.5,268.88 L358.75,268.73 L359,268.62 L359.25,268.57 L359.5,268.55 L359.75,268.58 L360,268.66 L360.25,268.77 L360.5,268.93 L360.75,269.12 L361,269.35 L361.25,269.62 L361.5,269.91 L361.75,270.23 L362,270.58 L362.25,270.95 L362.5,271.33 L362.75,271.73 L363,272.13 L363.25,272.54 L363.5,272.94 L363.75,273.33 L364,273.69 L364.25,273.71 L364.5,273.15 L364.75,272.56 L365,271.96 L365.25,271.34 L365.5,270.73 L365.75,270.13 L366,269.53 L366.25,268.95 L366.5,268.39 L366.75,267.86 L367,267.35 L367.25,266.87 L367.5,266.43 L367.75,266.02 L368,265.65 L368.25,265.32 L368.5,265.03 L368.75,264.79 L369,264.59 L369.25,264.43 L369.5,264.32 L369.75,264.26 L370,264.24 L370.25,264.27 L370.5,264.34 L370.75,264.46 L371,264.61 L371.25,264.8 L371.5,265.04 L371.75,265.3 L372,265.6 L372.25,265.92 L372.5,266.27 L372.75,266.64 L373,267.03 L373.25,267.43 L373.5,267.84 L373.75,268.25 L374,268.65 L374.25,269.03 L374.5,269.33 L374.75,268.82 L375,268.26 L375.25,267.68 L375.5,267.09 L375.75,266.5 L376,265.92 L376.25,265.36 L376.5,264.8 L376.75,264.27 L377,263.76 L377.25,263.28 L377.5,262.83 L377.75,262.42 L378,262.04 L378.25,261.7 L378.5,261.39 L378.75,261.13 L379,260.92 L379.25,260.75 L379.5,260.62 L379.75,260.54 L380,260.5 L380.25,260.51 L380.5,260.56 L380.75,260.66 L381,260.8 L381.25,260.98 L381.5,261.2 L381.75,261.45 L382,261.74 L382.25,262.05 L382.5,262.4 L382.75,262.77 L383,263.15 L383.25,263.56 L383.5,263.98 L383.75,264.4 L384,264.82 L384.25,265.24 L384.5,265.64 L384.75,266.01 L385,265.74 L385.25,265.19 L385.5,264.62 L385.75,264.04 L386,263.46 L386.25,262.88 L386.5,262.31 L386.75,261.76 L387,261.22 L387.25,260.71 L387.5,260.22 L387.75,259.76 L388,259.34 L388.25,258.95 L388.5,258.59 L388.75,258.28 L389,258 L389.25,257.77 L389.5,257.58 L389.75,257.44 L390,257.34 L390.25,257.29 L390.5,257.28 L390.75,257.31 L391,257.39 L391.25,257.51 L391.5,257.67 L391.75,257.87 L392,258.11 L392.25,258.38 L392.5,258.68 L392.75,259.01 L393,259.36 L393.25,259.73 L393.5,260.13 L393.75,260.53 L394,260.94 L394.25,261.36 L394.5,261.77 L394.75,262.17 L395,262.54 L395.25,262.53 L395.5,261.99 L395.75,261.41 L396,260.82 L396.25,260.22 L396.5,259.63 L396.75,259.04 L397,258.46 L397.25,257.9 L397.5,257.36 L397.75,256.84 L398,256.35 L398.25,255.89 L398.5,255.46 L398.75,255.07 L399,254.71 L399.25,254.4 L399.5,254.13 L399.75,253.9 L400,253.71 L400.25,253.57 L400.5,253.47 L400.75,253.42 L401,253.41 L401.25,253.45 L401.5,253.53 L401.75,253.65 L402,253.81 L402.25,254.01 L402.5,254.24 L402.75,254.5 L403,254.8 L403.25,255.12 L403.5,255.46 L403.75,255.82 L404,256.2 L404.25,256.59 L404.5,256.98 L404.75,257.38 L405,257.76 L405.25,258.13 L405.5,258.37 L405.75,257.84 L406,257.26 L406.25,256.65 L406.5,256.05 L406.75,255.44 L407,254.83 L407.25,254.24 L407.5,253.67 L407.75,253.11 L408,252.58 L408.25,252.07 L408.5,251.6 L408.75,251.15 L409,250.74 L409.25,250.37 L409.5,250.04 L409.75,249.76 L410,249.51 L410.25,249.31 L410.5,249.15 L410.75,249.04 L411,248.97 L411.25,248.95 L411.5,248.98 L411.75,249.04 L412,249.15 L412.25,249.3 L412.5,249.48 L412.75,249.7 L413,249.96 L413.25,250.25 L413.5,250.56 L413.75,250.9 L414,251.25 L414.25,251.63 L414.5,252.01 L414.75,252.41 L415,252.8 L415.25,253.19 L415.5,253.56 L415.75,253.89 L416,253.56 L416.25,252.98 L416.5,252.38 L416.75,251.77 L417,251.16 L417.25,250.55 L417.5,249.95 L417.75,249.37 L418,248.8 L418.25,248.26 L418.5,247.74 L418.75,247.25 L419,246.79 L419.25,246.37 L419.5,245.98 L419.75,245.64 L420,245.33 L420.25,245.07 L420.5,244.85 L420.75,244.67 L421,244.55 L421.25,244.46 L421.5,244.42 L421.75,244.43 L422,244.48 L422.25,244.57 L422.5,244.7 L422.75,244.87 L423,245.08 L423.25,245.33 L423.5,245.6 L423.75,245.9 L424,246.23 L424.25,246.58 L424.5,246.95 L424.75,247.34 L425,247.73 L425.25,248.12 L425.5,248.51 L425.75,248.89 L426,249.24 L426.25,249.19 L426.5,248.63 L426.75,248.04 L427,247.43 L427.25,246.82 L427.5,246.21 L427.75,245.61 L428,245.03 L428.25,244.46 L428.5,243.91 L428.75,243.38 L429,242.89 L429.25,242.42 L429.5,241.99 L429.75,241.6 L430,241.25 L430.25,240.93 L430.5,240.66 L430.75,240.44 L431,240.25 L431.25,240.11 L431.5,240.02 L431.75,239.98 L432,239.97 L432.25,240.02 L432.5,240.1 L432.75,240.23 L433,240.4 L433.25,240.6 L433.5,240.84 L433.75,241.11 L434,241.42 L434.25,241.75 L434.5,242.1 L434.75,242.47 L435,242.86 L435.25,243.26 L435.5,243.66 L435.75,244.06 L436,244.46 L436.25,244.83 L436.5,245.06 L436.75,244.53 L437,243.95 L437.25,243.36 L437.5,242.77 L437.75,242.17 L438,241.58 L438.25,241.01 L438.5,240.44 L438.75,239.9 L439,239.39 L439.25,238.9 L439.5,238.44 L439.75,238.01 L440,237.62 L440.25,237.27 L440.5,236.96 L440.75,236.69 L441,236.46 L441.25,236.28 L441.5,236.14 L441.75,236.04 L442,236 L442.25,235.99 L442.5,236.03 L442.75,236.12 L443,236.24 L443.25,236.41 L443.5,236.61 L443.75,236.85 L444,237.12 L444.25,237.42 L444.5,237.75 L444.75,238.1 L445,238.47 L445.25,238.86 L445.5,239.26 L445.75,239.66 L446,240.06 L446.25,240.46 L446.5,240.84 L446.75,241.18 L447,240.82 L447.25,240.25 L447.5,239.66 L447.75,239.06 L448,238.45 L448.25,237.85 L448.5,237.26 L448.75,236.68 L449,236.12 L449.25,235.58 L449.5,235.07 L449.75,234.59 L450,234.14 L450.25,233.72 L450.5,233.34 L450.75,233 L451,232.7 L451.25,232.44 L451.5,232.23 L451.75,232.06 L452,231.93 L452.25,231.85 L452.5,231.82 L452.75,231.83 L453,231.88 L453.25,231.97 L453.5,232.11 L453.75,232.28 L454,232.49 L454.25,232.74 L454.5,233.01 L454.75,233.32 L455,233.65 L455.25,234 L455.5,234.36 L455.75,234.75 L456,235.14 L456.25,235.53 L456.5,235.92 L456.75,236.29 L457,236.64 L457.25,236.55 L457.5,235.98 L457.75,235.39 L458,234.78 L458.25,234.16 L458.5,233.55 L458.75,232.95 L459,232.36 L459.25,231.79 L459.5,231.24 L459.75,230.72 L460,230.22 L460.25,229.76 L460.5,229.33 L460.75,228.94 L461,228.58 L461.25,228.27 L461.5,228 L461.75,227.78 L462,227.59 L462.25,227.46 L462.5,227.37 L462.75,227.32 L463,227.32 L463.25,227.37 L463.5,227.45 L463.75,227.58 L464,227.75 L464.25,227.96 L464.5,228.2 L464.75,228.48 L465,228.78 L465.25,229.12 L465.5,229.47 L465.75,229.85 L466,230.24 L466.25,230.64 L466.5,231.04 L466.75,231.45 L467,231.85 L467.25,232.22 L467.5,232.42 L467.75,231.89 L468,231.32 L468.25,230.73 L468.5,230.13 L468.75,229.54 L469,228.95 L469.25,228.38 L469.5,227.82 L469.75,227.29 L470,226.77 L470.25,226.29 L470.5,225.83 L470.75,225.41 L471,225.03 L471.25,224.68 L471.5,224.37 L471.75,224.11 L472,223.89 L472.25,223.72 L472.5,223.59 L472.75,223.5 L473,223.46 L473.25,223.47 L473.5,223.52 L473.75,223.61 L474,223.74 L474.25,223.92 L474.5,224.13 L474.75,224.38 L475,224.67 L475.25,224.98 L475.5,225.32 L475.75,225.69 L476,226.07 L476.25,226.47 L476.5,226.89 L476.75,227.31 L477,227.73 L477.25,228.14 L477.5,228.54 L477.75,228.89 L478,228.52 L478.25,227.97 L478.5,227.39 L478.75,226.81 L479,226.22 L479.25,225.64 L479.5,225.07 L479.75,224.52 L480,223.98 L480.25,223.47 L480.5,222.98 L480.75,222.52 L481,222.09 L481.25,221.7 L481.5,221.35 L481.75,221.03 L482,220.76 L482.25,220.52 L482.5,220.34 L482.75,220.19 L483,220.09 L483.25,220.04 L483.5,220.03 L483.75,220.06 L484,220.14 L484.25,220.26 L484.5,220.42 L484.75,220.62 L485,220.85 L485.25,221.12 L485.5,221.42 L485.75,221.75 L486,222.1 L486.25,222.47 L486.5,222.86 L486.75,223.27 L487,223.67 L487.25,224.09 L487.5,224.49 L487.75,224.89 L488,225.25 L488.25,225.14 L488.5,224.59 L488.75,224.01 L489,223.42 L489.25,222.82 L489.5,222.22 L489.75,221.64 L490,221.06 L490.25,220.51 L490.5,219.97 L490.75,219.46 L491,218.98 L491.25,218.53 L491.5,218.11 L491.75,217.73 L492,217.38 L492.25,217.08 L492.5,216.82 L492.75,216.61 L493,216.43 L493.25,216.31 L493.5,216.22 L493.75,216.18 L494,216.19 L494.25,216.24 L494.5,216.33 L494.75,216.47 L495,216.64 L495.25,216.85 L495.5,217.1 L495.75,217.38 L496,217.68 L496.25,218.01 L496.5,218.37 L496.75,218.74 L497,219.13 L497.25,219.53 L497.5,219.93 L497.75,220.33 L498,220.72 L498.25,221.09 L498.5,221.25 L498.75,220.71 L499,220.13 L499.25,219.53 L499.5,218.93 L499.75,218.32 L500,217.73 L500.25,217.14 L500.5,216.57 L500.75,216.02 L501,215.5 L501.25,215 L501.5,214.53 L501.75,214.1 L502,213.7 L502.25,213.34 L502.5,213.02 L502.75,212.74 L503,212.5 L503.25,212.31 L503.5,212.17 L503.75,212.06 L504,212.01 L504.25,212 L504.5,212.03 L504.75,212.1 L505,212.22 L505.25,212.38 L505.5,212.57 L505.75,212.8 L506,213.07 L506.25,213.36 L506.5,213.68 L506.75,214.03 L507,214.39 L507.25,214.77 L507.5,215.17 L507.75,215.56 L508,215.96 L508.25,216.36 L508.5,216.73 L508.75,217.06 L509,216.64 L509.25,216.06 L509.5,215.47 L509.75,214.86 L510,214.26 L510.25,213.66 L510.5,213.07 L510.75,212.5 L511,211.94 L511.25,211.41 L511.5,210.9 L511.75,210.43 L512,209.98 L512.25,209.58 L512.5,209.2 L512.75,208.87 L513,208.58 L513.25,208.34 L513.5,208.13 L513.75,207.97 L514,207.86 L514.25,207.79 L514.5,207.77 L514.75,207.79 L515,207.85 L515.25,207.96 L515.5,208.1 L515.75,208.29 L516,208.51 L516.25,208.76 L516.5,209.05 L516.75,209.36 L517,209.7 L517.25,210.05 L517.5,210.43 L517.75,210.82 L518,211.21 L518.25,211.61 L518.5,212 L518.75,212.38 L519,212.72 L519.25,212.57 L519.5,212 L519.75,211.4 L520,210.79 L520.25,210.18 L520.5,209.57 L520.75,208.97 L521,208.38 L521.25,207.81 L521.5,207.26 L521.75,206.74 L522,206.24 L522.25,205.77 L522.5,205.34 L522.75,204.95 L523,204.59 L523.25,204.28 L523.5,204 L523.75,203.77 L524,203.59 L524.25,203.44 L524.5,203.35 L524.75,203.3 L525,203.29 L525.25,203.32 L525.5,203.4 L525.75,203.52 L526,203.68 L526.25,203.87 L526.5,204.1 L526.75,204.36 L527,204.65 L527.25,204.97 L527.5,205.31 L527.75,205.66 L528,206.03 L528.25,206.41 L528.5,206.8 L528.75,207.18 L529,207.55 L529.25,207.9 L529.44,208.28 L529.74,207.32 L530.04,206.47 L530.34,205.72 L530.64,205.06 L530.94,204.49 L531.24,204.01 L531.54,203.6 L531.84,203.27 L532.14,203.01 L532.44,202.81 L532.74,202.68 L533.04,202.59 L533.34,202.56 L533.64,202.62 L533.94,202.83 L534.24,203.19 L534.54,203.67 L534.84,204.25 L535.14,204.92 L535.44,205.65 L535.74,206.42 L536.04,207.23 L536.34,208.18 L536.64,209.51 L536.94,211.14 L537.24,212.96 L537.54,214.87 L537.84,216.79 L538.14,218.6 L538.44,220.2 L538.74,221.51 L539.04,222.67 L539.34,223.79 L539.64,224.85 L539.94,225.86 L540.24,226.8 L540.54,227.65 L540.84,228.41 L541.14,229.06 L541.44,229.6 L541.74,230.09 L542.04,230.54 L542.34,230.94 L542.64,231.3 L542.94,231.62 L543.24,231.9 L543.54,232.13 L543.84,232.33 L544.14,232.51 L544.44,232.64" stroke="#000"/>
<path d="M328.3,311.4 L328.6,311.36 L328.9,311.29 L329.2,311.21 L329.5,311.11 L329.8,310.99 L330.1,310.86 L330.4,310.72 L330.7,310.57 L331,310.42 L331.3,310.26 L331.6,310.08 L331.9,309.89 L332.2,309.68 L332.5,309.45 L332.8,309.2 L333.1,308.92 L333.4,308.63 L333.7,308.31 L334,307.98 L334.3,307.62 L334.6,307.24 L334.9,306.84 L335.2,306.41 L335.5,305.97 L335.8,305.47 L336.1,304.84 L336.4,304.09 L336.7,303.25 L337,302.33 L337.3,301.36 L337.6,300.35 L337.9,299.33 L338.2,298.31 L338.5,297.33 L338.8,296.4 L339.1,295.54 L339.4,294.74 L339.7,293.9 L340,293.06 L340.3,292.22 L340.6,291.42 L340.9,290.68 L341.2,290.02 L341.5,289.47 L341.8,289.05 L342.1,288.72 L342.4,288.42 L342.7,288.14 L343,287.89 L343.3,287.65 L343.6,287.44 L343.9,287.25 L344.2,287.07 L344.5,286.9 L344.8,286.75 L345.1,286.6 L345.4,286.46 L345.7,286.33 L346,286.21 L346.3,286.09 L346.6,285.98 L346.9,285.87 L347.2,285.77 L347.5,285.67 L347.8,285.57 L348.1,285.48 L348.4,285.39 L348.7,285.31 L349,285.22 L349.3,285.14 L349.6,285.06 L349.9,284.98 L350.2,284.91 L350.5,284.83 L350.8,284.75 L351.1,284.67 L351.4,284.59 L351.7,284.51 L352,284.43 L352.3,284.35 L352.6,284.27 L352.9,284.19 L353.2,284.11 L353.5,284.04 L353.8,283.97 L354.1,283.9 L354.4,283.83 L354.7,283.76 L355,283.69 L355.3,283.61 L355.6,283.54 L355.9,283.46 L356.2,283.38 L356.5,283.3 L356.8,283.21 L357.1,283.12 L357.4,283.02 L357.7,282.92 L358,282.8 L358.3,282.66 L358.6,282.52 L358.9,282.37 L359.2,282.21 L359.5,282.04 L359.8,281.87 L360.1,281.71 L360.4,281.54 L360.7,281.38 L361,281.22 L361.3,281.08 L361.6,280.93 L361.9,280.78 L362.2,280.63 L362.5,280.48 L362.8,280.33 L363.1,280.18 L363.4,280.03 L363.7,279.88 L364,279.74 L364.3,279.59 L364.6,279.45 L364.9,279.31 L365.2,279.17 L365.5,279.03 L365.8,278.9 L366.1,278.76 L366.4,278.63 L366.7,278.51 L367,278.38 L367.3,278.25 L367.6,278.12 L367.9,278 L368.2,277.87 L368.5,277.75 L368.8,277.62 L369.1,277.5 L369.4,277.38 L369.7,277.26 L370,277.14 L370.3,277.02 L370.6,276.91 L370.9,276.8 L371.2,276.69 L371.5,276.58 L371.8,276.48 L372.1,276.37 L372.4,276.27 L372.7,276.18 L373,276.09 L373.3,276 L373.6,275.91 L373.9,275.83 L374.2,275.75 L374.5,275.68 L374.8,275.61 L375.1,275.55 L375.4,275.48 L375.7,275.42 L376,275.36 L376.3,275.3 L376.6,275.24 L376.9,275.17 L377.2,275.11 L377.5,275.04 L377.8,274.97 L378.1,274.89 L378.4,274.81 L378.7,274.73 L379,274.64 L379.3,274.54 L379.6,274.44 L379.9,274.33 L380.2,274.22 L380.5,274.11 L380.8,273.99 L381.1,273.86 L381.4,273.74 L381.7,273.61 L382,273.48 L382.3,273.34 L382.6,273.2 L382.9,273.07 L383.2,272.92 L383.5,272.78 L383.8,272.64 L384.1,272.49 L384.4,272.35 L384.7,272.2 L385,272.06 L385.3,271.91 L385.6,271.77 L385.9,271.63 L386.2,271.48 L386.5,271.34 L386.8,271.2 L387.1,271.07 L387.4,270.93 L387.7,270.8 L388,270.67 L388.3,270.53 L388.6,270.4 L388.9,270.27 L389.2,270.14 L389.5,270.01 L389.8,269.87 L390.1,269.74 L390.4,269.61 L390.7,269.48 L391,269.34 L391.3,269.21 L391.6,269.08 L391.9,268.95 L392.2,268.81 L392.5,268.68 L392.8,268.55 L393.1,268.41 L393.4,268.28 L393.7,268.14 L394,268.01 L394.3,267.87 L394.6,267.73 L394.9,267.6 L395.2,267.46 L395.5,267.32 L395.8,267.18 L396.1,267.04 L396.4,266.9 L396.7,266.76 L397,266.61 L397.3,266.47 L397.6,266.31 L397.9,266.16 L398.2,266.01 L398.5,265.85 L398.8,265.69 L399.1,265.54 L399.4,265.38 L399.7,265.22 L400,265.06 L400.3,264.9 L400.6,264.74 L400.9,264.58 L401.2,264.43 L401.5,264.27 L401.8,264.12 L402.1,263.97 L402.4,263.82 L402.7,263.67 L403,263.53 L403.3,263.39 L403.6,263.25 L403.9,263.12 L404.2,262.99 L404.5,262.87 L404.8,262.75 L405.1,262.63 L405.4,262.52 L405.7,262.41 L406,262.3 L406.3,262.2 L406.6,262.1 L406.9,262 L407.2,261.9 L407.5,261.8 L407.8,261.7 L408.1,261.61 L408.4,261.52 L408.7,261.43 L409,261.34 L409.3,261.25 L409.6,261.16 L409.9,261.07 L410.2,260.99 L410.5,260.9 L410.8,260.82 L411.1,260.73 L411.4,260.65 L411.7,260.57 L412,260.49 L412.3,260.4 L412.6,260.32 L412.9,260.24 L413.2,260.16 L413.5,260.07 L413.8,259.99 L414.1,259.91 L414.4,259.83 L414.7,259.75 L415,259.68 L415.3,259.61 L415.6,259.54 L415.9,259.47 L416.2,259.4 L416.5,259.33 L416.8,259.26 L417.1,259.2 L417.4,259.13 L417.7,259.06 L418,258.99 L418.3,258.92 L418.6,258.84 L418.9,258.77 L419.2,258.69 L419.5,258.61 L419.8,258.53 L420.1,258.44 L420.4,258.35 L420.7,258.25 L421,258.15 L421.3,258.04 L421.6,257.92 L421.9,257.8 L422.2,257.66 L422.5,257.52 L422.8,257.36 L423.1,257.21 L423.4,257.04 L423.7,256.88 L424,256.71 L424.3,256.53 L424.6,256.35 L424.9,256.17 L425.2,255.99 L425.5,255.81 L425.8,255.63 L426.1,255.45 L426.4,255.27 L426.7,255.09 L427,254.92 L427.3,254.75 L427.6,254.58 L427.9,254.42 L428.2,254.26 L428.5,254.11 L428.8,253.97 L429.1,253.84 L429.4,253.71 L429.7,253.59 L430,253.49 L430.3,253.39 L430.6,253.3 L430.9,253.21 L431.2,253.13 L431.5,253.05 L431.8,252.98 L432.1,252.9 L432.4,252.83 L432.7,252.76 L433,252.68 L433.3,252.61 L433.6,252.53 L433.9,252.44 L434.2,252.36 L434.5,252.28 L434.8,252.2 L435.1,252.11 L435.4,252.03 L435.7,251.95 L436,251.87 L436.3,251.78 L436.6,251.7 L436.9,251.62 L437.2,251.54 L437.5,251.45 L437.8,251.37 L438.1,251.28 L438.4,251.2 L438.7,251.11 L439,251.02 L439.3,250.94 L439.6,250.85 L439.9,250.76 L440.2,250.67 L440.5,250.58 L440.8,250.48 L441.1,250.39 L441.4,250.29 L441.7,250.2 L442,250.1 L442.3,250 L442.6,249.9 L442.9,249.79 L443.2,249.68 L443.5,249.57 L443.8,249.46 L444.1,249.34 L444.4,249.22 L444.7,249.1 L445,248.97 L445.3,248.84 L445.6,248.72 L445.9,248.59 L446.2,248.46 L446.5,248.33 L446.8,248.2 L447.1,248.06 L447.4,247.93 L447.7,247.8 L448,247.67 L448.3,247.54 L448.6,247.42 L448.9,247.29 L449.2,247.17 L449.5,247.05 L449.8,246.93 L450.1,246.81 L450.4,246.7 L450.7,246.59 L451,246.48 L451.3,246.38 L451.6,246.28 L451.9,246.18 L452.2,246.09 L452.5,246 L452.8,245.91 L453.1,245.83 L453.4,245.75 L453.7,245.67 L454,245.59 L454.3,245.51 L454.6,245.44 L454.9,245.36 L455.2,245.28 L455.5,245.21 L455.8,245.13 L456.1,245.06 L456.4,244.98 L456.7,244.9 L457,244.82 L457.3,244.74 L457.6,244.66 L457.9,244.57 L458.2,244.48 L458.5,244.39 L458.8,244.29 L459.1,244.2 L459.4,244.09 L459.7,243.99 L460,243.87 L460.3,243.76 L460.6,243.63 L460.9,243.5 L461.2,243.36 L461.5,243.21 L461.8,243.05 L462.1,242.89 L462.4,242.72 L462.7,242.55 L463,242.37 L463.3,242.19 L463.6,242.01 L463.9,241.82 L464.2,241.63 L464.5,241.44 L464.8,241.24 L465.1,241.05 L465.4,240.86 L465.7,240.66 L466,240.47 L466.3,240.28 L466.6,240.09 L466.9,239.9 L467.2,239.72 L467.5,239.54 L467.8,239.36 L468.1,239.19 L468.4,239.02 L468.7,238.86 L469,238.7 L469.3,238.55 L469.6,238.4 L469.9,238.25 L470.2,238.1 L470.5,237.95 L470.8,237.8 L471.1,237.65 L471.4,237.5 L471.7,237.36 L472,237.21 L472.3,237.07 L472.6,236.93 L472.9,236.78 L473.2,236.64 L473.5,236.5 L473.8,236.37 L474.1,236.23 L474.4,236.09 L474.7,235.96 L475,235.83 L475.3,235.69 L475.6,235.56 L475.9,235.43 L476.2,235.3 L476.5,235.18 L476.8,235.05 L477.1,234.93 L477.4,234.81 L477.7,234.68 L478,234.56 L478.3,234.45 L478.6,234.33 L478.9,234.22 L479.2,234.11 L479.5,233.99 L479.8,233.89 L480.1,233.78 L480.4,233.67 L480.7,233.57 L481,233.46 L481.3,233.36 L481.6,233.26 L481.9,233.16 L482.2,233.06 L482.5,232.96 L482.8,232.86 L483.1,232.76 L483.4,232.66 L483.7,232.56 L484,232.46 L484.3,232.36 L484.6,232.26 L484.9,232.17 L485.2,232.07 L485.5,231.97 L485.8,231.87 L486.1,231.76 L486.4,231.66 L486.7,231.56 L487,231.46 L487.3,231.35 L487.6,231.24 L487.9,231.14 L488.2,231.03 L488.5,230.91 L488.8,230.8 L489.1,230.68 L489.4,230.57 L489.7,230.45 L490,230.33 L490.3,230.21 L490.6,230.09 L490.9,229.97 L491.2,229.85 L491.5,229.73 L491.8,229.62 L492.1,229.5 L492.4,229.39 L492.7,229.28 L493,229.18 L493.3,229.07 L493.6,228.98 L493.9,228.88 L494.2,228.79 L494.5,228.7 L494.8,228.62 L495.1,228.54 L495.4,228.47 L495.7,228.4 L496,228.33 L496.3,228.26 L496.6,228.19 L496.9,228.13 L497.2,228.06 L497.5,228 L497.8,227.93 L498.1,227.87 L498.4,227.8 L498.7,227.73 L499,227.65 L499.3,227.58 L499.6,227.5 L499.9,227.42 L500.2,227.33 L500.5,227.24 L500.8,227.14 L501.1,227.04 L501.4,226.92 L501.7,226.8 L502,226.66 L502.3,226.52 L502.6,226.36 L502.9,226.2 L503.2,226.03 L503.5,225.86 L503.8,225.68 L504.1,225.5 L504.4,225.32 L504.7,225.13 L505,224.95 L505.3,224.76 L505.6,224.58 L505.9,224.39 L506.2,224.21 L506.5,224.04 L506.8,223.87 L507.1,223.71 L507.4,223.55 L507.7,223.4 L508,223.26 L508.3,223.13 L508.6,223 L508.9,222.87 L509.2,222.74 L509.5,222.61 L509.8,222.48 L510.1,222.36 L510.4,222.24 L510.7,222.12 L511,222 L511.3,221.88 L511.6,221.76 L511.9,221.65 L512.2,221.54 L512.5,221.43 L512.8,221.32 L513.1,221.22 L513.4,221.11 L513.7,221.01 L514,220.91 L514.3,220.81 L514.6,220.72 L514.9,220.63 L515.2,220.53 L515.5,220.45 L515.8,220.36 L516.1,220.28 L516.4,220.2 L516.7,220.13 L517,220.05 L517.3,219.98 L517.6,219.9 L517.9,219.83 L518.2,219.76 L518.5,219.69 L518.8,219.62 L519.1,219.55 L519.4,219.48 L519.7,219.41 L520,219.34 L520.3,219.27 L520.6,219.19 L520.9,219.12 L521.2,219.04 L521.5,218.96 L521.8,218.87 L522.1,218.79 L522.4,218.69 L522.7,218.58 L523,218.46 L523.3,218.33 L523.6,218.2 L523.9,218.07 L524.2,217.93 L524.5,217.8 L524.8,217.67 L525.1,217.55 L525.4,217.43 L525.7,217.33 L526,217.24 L526.3,217.16 L526.6,217.1 L526.9,217.06 L527.2,217.04 L527.5,217.04 L527.8,217.06 L528.1,217.09 L528.4,217.14 L528.7,217.2 L529,217.28 L529.3,217.36 L529.6,217.46 L529.9,217.56 L530.2,217.68 L530.5,217.8 L530.8,217.93 L531.1,218.13 L531.4,218.46 L531.7,218.89 L532,219.41 L532.3,220 L532.6,220.63 L532.9,221.29 L533.2,221.96 L533.5,222.62 L533.8,223.24 L534.1,223.81 L534.4,224.31 L534.7,224.81 L535,225.31 L535.3,225.81 L535.6,226.31 L535.9,226.8 L536.2,227.28 L536.5,227.74 L536.8,228.17 L537.1,228.57 L537.4,228.93 L537.7,229.26 L538,229.55 L538.3,229.82 L538.6,230.08 L538.9,230.33 L539.2,230.57 L539.5,230.79 L539.8,230.99 L540.1,231.18 L540.4,231.35 L540.7,231.51 L541,231.64 L541.3,231.77 L541.6,231.89 L541.9,232.01 L542.2,232.12 L542.5,232.23 L542.8,232.33 L543.1,232.42 L543.4,232.49 L543.7,232.56 L544,232.61 L544.3,232.65 L544.4,232.66" stroke="#f00"/>
<path d="M328.3,311.4 L328.6,311.29 L328.9,311.14 L329.2,310.97 L329.5,310.76 L329.8,310.52 L330.1,310.24 L330.4,309.9 L330.7,309.53 L331,309.13 L331.3,308.69 L331.6,308.22 L331.9,307.73 L332.2,307.23 L332.5,306.7 L332.8,306.17 L333.1,305.62 L333.4,304.96 L333.7,304.19 L334,303.36 L334.3,302.51 L334.6,301.67 L334.9,300.9 L335.2,300.24 L335.5,299.72 L335.8,299.35 L336.1,299.02 L336.4,298.7 L336.7,298.41 L337,298.15 L337.3,297.92 L337.6,297.73 L337.9,297.57 L338.2,297.46 L338.5,297.38 L338.8,297.31 L339.1,297.24 L339.4,297.18 L339.7,297.13 L340,297.08 L340.3,297.04 L340.6,297 L340.9,296.96 L341.2,296.93 L341.5,296.9 L341.8,296.86 L342.1,296.83 L342.4,296.8 L342.7,296.77 L343,296.73 L343.3,296.69 L343.6,296.65 L343.9,296.61 L344.2,296.57 L344.5,296.53 L344.8,296.49 L345.1,296.45 L345.4,296.41 L345.7,296.37 L346,296.33 L346.3,296.3 L346.6,296.26 L346.9,296.22 L347.2,296.18 L347.5,296.14 L347.8,296.1 L348.1,296.06 L348.4,296.02 L348.7,295.98 L349,295.95 L349.3,295.91 L349.6,295.87 L349.9,295.83 L350.2,295.79 L350.5,295.76 L350.8,295.72 L351.1,295.68 L351.4,295.64 L351.7,295.61 L352,295.57 L352.3,295.53 L352.6,295.49 L352.9,295.46 L353.2,295.42 L353.5,295.38 L353.8,295.35 L354.1,295.31 L354.4,295.27 L354.7,295.24 L355,295.2 L355.3,295.16 L355.6,295.13 L355.9,295.09 L356.2,295.06 L356.5,295.02 L356.8,294.98 L357.1,294.95 L357.4,294.91 L357.7,294.88 L358,294.84 L358.3,294.8 L358.6,294.77 L358.9,294.73 L359.2,294.7 L359.5,294.66 L359.8,294.63 L360.1,294.59 L360.4,294.56 L360.7,294.52 L361,294.49 L361.3,294.45 L361.6,294.42 L361.9,294.38 L362.2,294.35 L362.5,294.31 L362.8,294.28 L363.1,294.24 L363.4,294.21 L363.7,294.17 L364,294.14 L364.3,294.1 L364.6,294.07 L364.9,294.03 L365.2,294 L365.5,293.96 L365.8,293.93 L366.1,293.9 L366.4,293.86 L366.7,293.83 L367,293.79 L367.3,293.76 L367.6,293.72 L367.9,293.69 L368.2,293.66 L368.5,293.62 L368.8,293.59 L369.1,293.55 L369.4,293.52 L369.7,293.48 L370,293.45 L370.3,293.41 L370.6,293.38 L370.9,293.35 L371.2,293.31 L371.5,293.28 L371.8,293.24 L372.1,293.21 L372.4,293.17 L372.7,293.14 L373,293.11 L373.3,293.07 L373.6,293.04 L373.9,293 L374.2,292.97 L374.5,292.93 L374.8,292.9 L375.1,292.87 L375.4,292.83 L375.7,292.8 L376,292.76 L376.3,292.73 L376.6,292.69 L376.9,292.66 L377.2,292.62 L377.5,292.59 L377.8,292.55 L378.1,292.52 L378.4,292.48 L378.7,292.45 L379,292.41 L379.3,292.38 L379.6,292.34 L379.9,292.31 L380.2,292.27 L380.5,292.24 L380.8,292.2 L381.1,292.17 L381.4,292.13 L381.7,292.1 L382,292.06 L382.3,292.03 L382.6,291.99 L382.9,291.96 L383.2,291.92 L383.5,291.89 L383.8,291.85 L384.1,291.82 L384.4,291.78 L384.7,291.74 L385,291.71 L385.3,291.67 L385.6,291.64 L385.9,291.6 L386.2,291.57 L386.5,291.53 L386.8,291.5 L387.1,291.46 L387.4,291.43 L387.7,291.39 L388,291.36 L388.3,291.32 L388.6,291.28 L388.9,291.25 L389.2,291.21 L389.5,291.18 L389.8,291.14 L390.1,291.11 L390.4,291.07 L390.7,291.04 L391,291 L391.3,290.97 L391.6,290.93 L391.9,290.9 L392.2,290.86 L392.5,290.83 L392.8,290.79 L393.1,290.76 L393.4,290.72 L393.7,290.69 L394,290.65 L394.3,290.62 L394.6,290.58 L394.9,290.55 L395.2,290.51 L395.5,290.48 L395.8,290.44 L396.1,290.41 L396.4,290.37 L396.7,290.34 L397,290.3 L397.3,290.27 L397.6,290.23 L397.9,290.19 L398.2,290.16 L398.5,290.12 L398.8,290.09 L399.1,290.05 L399.4,290.02 L399.7,289.98 L400,289.95 L400.3,289.91 L400.6,289.88 L400.9,289.84 L401.2,289.81 L401.5,289.77 L401.8,289.74 L402.1,289.7 L402.4,289.67 L402.7,289.63 L403,289.6 L403.3,289.56 L403.6,289.53 L403.9,289.49 L404.2,289.46 L404.5,289.42 L404.8,289.39 L405.1,289.35 L405.4,289.32 L405.7,289.28 L406,289.25 L406.3,289.21 L406.6,289.18 L406.9,289.14 L407.2,289.11 L407.5,289.07 L407.8,289.04 L408.1,289 L408.4,288.97 L408.7,288.93 L409,288.9 L409.3,288.86 L409.6,288.83 L409.9,288.79 L410.2,288.76 L410.5,288.72 L410.8,288.69 L411.1,288.65 L411.4,288.62 L411.7,288.58 L412,288.55 L412.3,288.51 L412.6,288.48 L412.9,288.44 L413.2,288.41 L413.5,288.37 L413.8,288.34 L414.1,288.3 L414.4,288.27 L414.7,288.23 L415,288.2 L415.3,288.16 L415.6,288.13 L415.9,288.09 L416.2,288.06 L416.5,288.02 L416.8,287.98 L417.1,287.95 L417.4,287.91 L417.7,287.88 L418,287.84 L418.3,287.81 L418.6,287.77 L418.9,287.74 L419.2,287.7 L419.5,287.67 L419.8,287.63 L420.1,287.6 L420.4,287.56 L420.7,287.53 L421,287.49 L421.3,287.45 L421.6,287.42 L421.9,287.38 L422.2,287.35 L422.5,287.31 L422.8,287.28 L423.1,287.24 L423.4,287.21 L423.7,287.17 L424,287.13 L424.3,287.1 L424.6,287.06 L424.9,287.03 L425.2,286.99 L425.5,286.96 L425.8,286.92 L426.1,286.89 L426.4,286.85 L426.7,286.81 L427,286.78 L427.3,286.74 L427.6,286.71 L427.9,286.67 L428.2,286.64 L428.5,286.6 L428.8,286.56 L429.1,286.53 L429.4,286.49 L429.7,286.46 L430,286.42 L430.3,286.39 L430.6,286.35 L430.9,286.32 L431.2,286.28 L431.5,286.24 L431.8,286.21 L432.1,286.17 L432.4,286.14 L432.7,286.1 L433,286.07 L433.3,286.03 L433.6,285.99 L433.9,285.96 L434.2,285.92 L434.5,285.89 L434.8,285.85 L435.1,285.82 L435.4,285.78 L435.7,285.75 L436,285.71 L436.3,285.67 L436.6,285.64 L436.9,285.6 L437.2,285.57 L437.5,285.53 L437.8,285.5 L438.1,285.46 L438.4,285.43 L438.7,285.39 L439,285.35 L439.3,285.32 L439.6,285.28 L439.9,285.25 L440.2,285.21 L440.5,285.18 L440.8,285.14 L441.1,285.1 L441.4,285.07 L441.7,285.03 L442,285 L442.3,284.96 L442.6,284.93 L442.9,284.89 L443.2,284.85 L443.5,284.82 L443.8,284.78 L444.1,284.75 L444.4,284.71 L444.7,284.68 L445,284.64 L445.3,284.6 L445.6,284.57 L445.9,284.53 L446.2,284.5 L446.5,284.46 L446.8,284.43 L447.1,284.39 L447.4,284.35 L447.7,284.32 L448,284.28 L448.3,284.25 L448.6,284.21 L448.9,284.18 L449.2,284.14 L449.5,284.1 L449.8,284.07 L450.1,284.03 L450.4,284 L450.7,283.96 L451,283.92 L451.3,283.89 L451.6,283.85 L451.9,283.82 L452.2,283.78 L452.5,283.75 L452.8,283.71 L453.1,283.67 L453.4,283.64 L453.7,283.6 L454,283.57 L454.3,283.53 L454.6,283.49 L454.9,283.46 L455.2,283.42 L455.5,283.39 L455.8,283.35 L456.1,283.31 L456.4,283.28 L456.7,283.24 L457,283.21 L457.3,283.17 L457.6,283.13 L457.9,283.1 L458.2,283.06 L458.5,283.02 L458.8,282.99 L459.1,282.95 L459.4,282.92 L459.7,282.88 L460,282.84 L460.3,282.81 L460.6,282.77 L460.9,282.74 L461.2,282.7 L461.5,282.66 L461.8,282.63 L462.1,282.59 L462.4,282.55 L462.7,282.52 L463,282.48 L463.3,282.45 L463.6,282.41 L463.9,282.37 L464.2,282.34 L464.5,282.3 L464.8,282.26 L465.1,282.23 L465.4,282.19 L465.7,282.15 L466,282.12 L466.3,282.08 L466.6,282.04 L466.9,282.01 L467.2,281.97 L467.5,281.93 L467.8,281.9 L468.1,281.86 L468.4,281.83 L468.7,281.79 L469,281.75 L469.3,281.72 L469.6,281.68 L469.9,281.64 L470.2,281.61 L470.5,281.57 L470.8,281.53 L471.1,281.49 L471.4,281.46 L471.7,281.42 L472,281.38 L472.3,281.35 L472.6,281.31 L472.9,281.27 L473.2,281.24 L473.5,281.2 L473.8,281.16 L474.1,281.13 L474.4,281.09 L474.7,281.05 L475,281.02 L475.3,280.98 L475.6,280.94 L475.9,280.9 L476.2,280.87 L476.5,280.83 L476.8,280.79 L477.1,280.76 L477.4,280.72 L477.7,280.68 L478,280.64 L478.3,280.61 L478.6,280.57 L478.9,280.53 L479.2,280.49 L479.5,280.46 L479.8,280.42 L480.1,280.38 L480.4,280.35 L480.7,280.31 L481,280.27 L481.3,280.23 L481.6,280.2 L481.9,280.16 L482.2,280.12 L482.5,280.08 L482.8,280.05 L483.1,280.01 L483.4,279.97 L483.7,279.93 L484,279.89 L484.3,279.86 L484.6,279.82 L484.9,279.78 L485.2,279.74 L485.5,279.7 L485.8,279.66 L486.1,279.63 L486.4,279.59 L486.7,279.55 L487,279.51 L487.3,279.47 L487.6,279.43 L487.9,279.39 L488.2,279.35 L488.5,279.32 L488.8,279.28 L489.1,279.24 L489.4,279.2 L489.7,279.16 L490,279.12 L490.3,279.08 L490.6,279.04 L490.9,279 L491.2,278.96 L491.5,278.92 L491.8,278.89 L492.1,278.85 L492.4,278.81 L492.7,278.77 L493,278.73 L493.3,278.69 L493.6,278.65 L493.9,278.61 L494.2,278.57 L494.5,278.53 L494.8,278.49 L495.1,278.45 L495.4,278.41 L495.7,278.37 L496,278.33 L496.3,278.3 L496.6,278.26 L496.9,278.22 L497.2,278.18 L497.5,278.14 L497.8,278.1 L498.1,278.06 L498.4,278.02 L498.7,277.98 L499,277.94 L499.3,277.9 L499.6,277.86 L499.9,277.83 L500.2,277.79 L500.5,277.75 L500.8,277.71 L501.1,277.67 L501.4,277.63 L501.7,277.59 L502,277.55 L502.3,277.51 L502.6,277.48 L502.9,277.44 L503.2,277.4 L503.5,277.36 L503.8,277.32 L504.1,277.28 L504.4,277.25 L504.7,277.21 L505,277.17 L505.3,277.13 L505.6,277.09 L505.9,277.05 L506.2,277.02 L506.5,276.98 L506.8,276.94 L507.1,276.9 L507.4,276.87 L507.7,276.83 L508,276.79 L508.3,276.75 L508.6,276.72 L508.9,276.68 L509.2,276.65 L509.5,276.61 L509.8,276.58 L510.1,276.55 L510.4,276.52 L510.7,276.48 L511,276.46 L511.3,276.43 L511.6,276.4 L511.9,276.37 L512.2,276.35 L512.5,276.32 L512.8,276.3 L513.1,276.27 L513.4,276.25 L513.7,276.23 L514,276.2 L514.3,276.18 L514.6,276.16 L514.9,276.14 L515.2,276.12 L515.5,276.1 L515.8,276.08 L516.1,276.05 L516.4,276.03 L516.7,276.02 L517,276 L517.3,275.98 L517.6,275.96 L517.9,275.94 L518.2,275.92 L518.5,275.9 L518.8,275.88 L519.1,275.86 L519.4,275.84 L519.7,275.82 L520,275.8 L520.3,275.77 L520.6,275.75 L520.9,275.73 L521.2,275.71 L521.5,275.69 L521.8,275.66 L522.1,275.64 L522.4,275.62 L522.7,275.59 L523,275.57 L523.3,275.54 L523.6,275.51 L523.9,275.49 L524.2,275.46 L524.5,275.43 L524.8,275.4 L525.1,275.37 L525.4,275.33 L525.7,275.3 L526,275.27 L526.3,275.23 L526.6,275.2 L526.9,275.16 L527.2,275.12 L527.5,275.08 L527.8,275.04 L528.1,275 L528.4,274.95 L528.7,274.91 L529,274.86 L529.3,274.82 L529.6,274.77 L529.9,274.72 L530.2,274.66 L530.5,274.61 L530.8,274.55 L531.1,274.5 L531.4,274.44 L531.7,274.38 L532,274.31 L532.3,274.25 L532.6,274.18 L532.9,274.12 L533.2,274.05 L533.5,273.97 L533.8,273.9 L534.1,273.82 L534.4,273.74 L534.7,273.66 L535,273.58 L535.3,273.47 L535.6,273.25 L535.9,272.94 L536.2,272.55 L536.5,272.08 L536.8,271.57 L537.1,271.02 L537.4,270.45 L537.7,269.88 L538,269.31 L538.3,268.78 L538.6,268.28 L538.9,267.84 L539.2,267.43 L539.5,267.03 L539.8,266.63 L540.1,266.24 L540.4,265.85 L540.7,265.46 L541,265.08 L541.3,264.7 L541.6,264.33 L541.9,263.96 L542.2,263.6 L542.5,263.24 L542.8,262.89 L543.1,262.54 L543.4,262.2 L543.7,261.87 L544,261.54 L544.3,261.21 L544.4,261.11" stroke="#000" stroke-dasharray="2.8 2.8"/>
<path d="M328.3,311.4 L328.6,311.36 L328.9,311.32 L329.2,311.27 L329.5,311.21 L329.8,311.15 L330.1,311.09 L330.4,311.02 L330.7,310.94 L331,310.85 L331.3,310.76 L331.6,310.65 L331.9,310.54 L332.2,310.41 L332.5,310.29 L332.8,310.15 L333.1,310.02 L333.4,309.87 L333.7,309.73 L334,309.58 L334.3,309.43 L334.6,309.28 L334.9,309.13 L335.2,308.98 L335.5,308.83 L335.8,308.68 L336.1,308.54 L336.4,308.4 L336.7,308.25 L337,308.09 L337.3,307.91 L337.6,307.73 L337.9,307.55 L338.2,307.39 L338.5,307.25 L338.8,307.15 L339.1,307.09 L339.4,307.07 L339.7,307.06 L340,307.05 L340.3,307.03 L340.6,307.02 L340.9,307.01 L341.2,307 L341.5,306.99 L341.8,306.98 L342.1,306.97 L342.4,306.96 L342.7,306.96 L343,306.95 L343.3,306.94 L343.6,306.94 L343.9,306.93 L344.2,306.92 L344.5,306.92 L344.8,306.91 L345.1,306.91 L345.4,306.9 L345.7,306.9 L346,306.89 L346.3,306.89 L346.6,306.88 L346.9,306.88 L347.2,306.88 L347.5,306.87 L347.8,306.87 L348.1,306.87 L348.4,306.86 L348.7,306.86 L349,306.86 L349.3,306.86 L349.6,306.85 L349.9,306.85 L350.2,306.85 L350.5,306.85 L350.8,306.84 L351.1,306.84 L351.4,306.84 L351.7,306.83 L352,306.83 L352.3,306.83 L352.6,306.82 L352.9,306.82 L353.2,306.82 L353.5,306.82 L353.8,306.81 L354.1,306.81 L354.4,306.81 L354.7,306.8 L355,306.8 L355.3,306.8 L355.6,306.79 L355.9,306.79 L356.2,306.79 L356.5,306.78 L356.8,306.78 L357.1,306.78 L357.4,306.78 L357.7,306.77 L358,306.77 L358.3,306.77 L358.6,306.76 L358.9,306.76 L359.2,306.76 L359.5,306.76 L359.8,306.75 L360.1,306.75 L360.4,306.75 L360.7,306.74 L361,306.74 L361.3,306.74 L361.6,306.74 L361.9,306.73 L362.2,306.73 L362.5,306.73 L362.8,306.73 L363.1,306.72 L363.4,306.72 L363.7,306.72 L364,306.71 L364.3,306.71 L364.6,306.71 L364.9,306.71 L365.2,306.7 L365.5,306.7 L365.8,306.7 L366.1,306.7 L366.4,306.69 L366.7,306.69 L367,306.69 L367.3,306.69 L367.6,306.68 L367.9,306.68 L368.2,306.68 L368.5,306.68 L368.8,306.67 L369.1,306.67 L369.4,306.67 L369.7,306.67 L370,306.66 L370.3,306.66 L370.6,306.66 L370.9,306.66 L371.2,306.66 L371.5,306.65 L371.8,306.65 L372.1,306.65 L372.4,306.65 L372.7,306.64 L373,306.64 L373.3,306.64 L373.6,306.64 L373.9,306.63 L374.2,306.63 L374.5,306.63 L374.8,306.63 L375.1,306.63 L375.4,306.62 L375.7,306.62 L376,306.62 L376.3,306.62 L376.6,306.62 L376.9,306.61 L377.2,306.61 L377.5,306.61 L377.8,306.61 L378.1,306.6 L378.4,306.6 L378.7,306.6 L379,306.6 L379.3,306.6 L379.6,306.59 L379.9,306.59 L380.2,306.59 L380.5,306.59 L380.8,306.59 L381.1,306.58 L381.4,306.58 L381.7,306.58 L382,306.58 L382.3,306.58 L382.6,306.57 L382.9,306.57 L383.2,306.57 L383.5,306.57 L383.8,306.57 L384.1,306.57 L384.4,306.56 L384.7,306.56 L385,306.56 L385.3,306.56 L385.6,306.56 L385.9,306.55 L386.2,306.55 L386.5,306.55 L386.8,306.55 L387.1,306.55 L387.4,306.55 L387.7,306.54 L388,306.54 L388.3,306.54 L388.6,306.54 L388.9,306.54 L389.2,306.53 L389.5,306.53 L389.8,306.53 L390.1,306.53 L390.4,306.53 L390.7,306.53 L391,306.52 L391.3,306.52 L391.6,306.52 L391.9,306.52 L392.2,306.52 L392.5,306.52 L392.8,306.51 L393.1,306.51 L393.4,306.51 L393.7,306.51 L394,306.51 L394.3,306.51 L394.6,306.5 L394.9,306.5 L395.2,306.5 L395.5,306.5 L395.8,306.5 L396.1,306.5 L396.4,306.5 L396.7,306.49 L397,306.49 L397.3,306.49 L397.6,306.49 L397.9,306.49 L398.2,306.49 L398.5,306.48 L398.8,306.48 L399.1,306.48 L399.4,306.48 L399.7,306.48 L400,306.48 L400.3,306.48 L400.6,306.47 L400.9,306.47 L401.2,306.47 L401.5,306.47 L401.8,306.47 L402.1,306.47 L402.4,306.46 L402.7,306.46 L403,306.46 L403.3,306.46 L403.6,306.46 L403.9,306.46 L404.2,306.46 L404.5,306.45 L404.8,306.45 L405.1,306.45 L405.4,306.45 L405.7,306.45 L406,306.45 L406.3,306.45 L406.6,306.44 L406.9,306.44 L407.2,306.44 L407.5,306.44 L407.8,306.44 L408.1,306.44 L408.4,306.44 L408.7,306.44 L409,306.43 L409.3,306.43 L409.6,306.43 L409.9,306.43 L410.2,306.43 L410.5,306.43 L410.8,306.43 L411.1,306.42 L411.4,306.42 L411.7,306.42 L412,306.42 L412.3,306.42 L412.6,306.42 L412.9,306.42 L413.2,306.42 L413.5,306.41 L413.8,306.41 L414.1,306.41 L414.4,306.41 L414.7,306.41 L415,306.41 L415.3,306.41 L415.6,306.4 L415.9,306.4 L416.2,306.4 L416.5,306.4 L416.8,306.4 L417.1,306.4 L417.4,306.4 L417.7,306.4 L418,306.39 L418.3,306.39 L418.6,306.39 L418.9,306.39 L419.2,306.39 L419.5,306.39 L419.8,306.39 L420.1,306.39 L420.4,306.38 L420.7,306.38 L421,306.38 L421.3,306.38 L421.6,306.38 L421.9,306.38 L422.2,306.38 L422.5,306.38 L422.8,306.37 L423.1,306.37 L423.4,306.37 L423.7,306.37 L424,306.37 L424.3,306.37 L424.6,306.37 L424.9,306.37 L425.2,306.36 L425.5,306.36 L425.8,306.36 L426.1,306.36 L426.4,306.36 L426.7,306.36 L427,306.36 L427.3,306.35 L427.6,306.35 L427.9,306.35 L428.2,306.35 L428.5,306.35 L428.8,306.35 L429.1,306.35 L429.4,306.35 L429.7,306.34 L430,306.34 L430.3,306.34 L430.6,306.34 L430.9,306.34 L431.2,306.34 L431.5,306.34 L431.8,306.34 L432.1,306.33 L432.4,306.33 L432.7,306.33 L433,306.33 L433.3,306.33 L433.6,306.33 L433.9,306.33 L434.2,306.33 L434.5,306.32 L434.8,306.32 L435.1,306.32 L435.4,306.32 L435.7,306.32 L436,306.32 L436.3,306.32 L436.6,306.32 L436.9,306.31 L437.2,306.31 L437.5,306.31 L437.8,306.31 L438.1,306.31 L438.4,306.31 L438.7,306.31 L439,306.3 L439.3,306.3 L439.6,306.3 L439.9,306.3 L440.2,306.3 L440.5,306.3 L440.8,306.3 L441.1,306.3 L441.4,306.29 L441.7,306.29 L442,306.29 L442.3,306.29 L442.6,306.29 L442.9,306.29 L443.2,306.29 L443.5,306.28 L443.8,306.28 L444.1,306.28 L444.4,306.28 L444.7,306.28 L445,306.28 L445.3,306.28 L445.6,306.27 L445.9,306.27 L446.2,306.27 L446.5,306.27 L446.8,306.27 L447.1,306.27 L447.4,306.27 L447.7,306.26 L448,306.26 L448.3,306.26 L448.6,306.26 L448.9,306.26 L449.2,306.26 L449.5,306.26 L449.8,306.25 L450.1,306.25 L450.4,306.25 L450.7,306.25 L451,306.25 L451.3,306.25 L451.6,306.24 L451.9,306.24 L452.2,306.24 L452.5,306.24 L452.8,306.24 L453.1,306.24 L453.4,306.24 L453.7,306.23 L454,306.23 L454.3,306.23 L454.6,306.23 L454.9,306.23 L455.2,306.23 L455.5,306.22 L455.8,306.22 L456.1,306.22 L456.4,306.22 L456.7,306.22 L457,306.22 L457.3,306.21 L457.6,306.21 L457.9,306.21 L458.2,306.21 L458.5,306.21 L458.8,306.21 L459.1,306.2 L459.4,306.2 L459.7,306.2 L460,306.2 L460.3,306.2 L460.6,306.2 L460.9,306.19 L461.2,306.19 L461.5,306.19 L461.8,306.19 L462.1,306.19 L462.4,306.19 L462.7,306.18 L463,306.18 L463.3,306.18 L463.6,306.18 L463.9,306.18 L464.2,306.18 L464.5,306.17 L464.8,306.17 L465.1,306.17 L465.4,306.17 L465.7,306.17 L466,306.16 L466.3,306.16 L466.6,306.16 L466.9,306.16 L467.2,306.16 L467.5,306.15 L467.8,306.15 L468.1,306.15 L468.4,306.15 L468.7,306.15 L469,306.14 L469.3,306.14 L469.6,306.14 L469.9,306.14 L470.2,306.14 L470.5,306.14 L470.8,306.13 L471.1,306.13 L471.4,306.13 L471.7,306.13 L472,306.12 L472.3,306.12 L472.6,306.12 L472.9,306.12 L473.2,306.12 L473.5,306.11 L473.8,306.11 L474.1,306.11 L474.4,306.11 L474.7,306.11 L475,306.1 L475.3,306.1 L475.6,306.1 L475.9,306.1 L476.2,306.09 L476.5,306.09 L476.8,306.09 L477.1,306.09 L477.4,306.09 L477.7,306.08 L478,306.08 L478.3,306.08 L478.6,306.08 L478.9,306.07 L479.2,306.07 L479.5,306.07 L479.8,306.07 L480.1,306.07 L480.4,306.06 L480.7,306.06 L481,306.06 L481.3,306.06 L481.6,306.05 L481.9,306.05 L482.2,306.05 L482.5,306.05 L482.8,306.05 L483.1,306.04 L483.4,306.04 L483.7,306.04 L484,306.04 L484.3,306.04 L484.6,306.03 L484.9,306.03 L485.2,306.03 L485.5,306.03 L485.8,306.03 L486.1,306.02 L486.4,306.02 L486.7,306.02 L487,306.02 L487.3,306.02 L487.6,306.02 L487.9,306.01 L488.2,306.01 L488.5,306.01 L488.8,306.01 L489.1,306.01 L489.4,306 L489.7,306 L490,306 L490.3,306 L490.6,306 L490.9,306 L491.2,305.99 L491.5,305.99 L491.8,305.99 L492.1,305.99 L492.4,305.99 L492.7,305.99 L493,305.99 L493.3,305.98 L493.6,305.98 L493.9,305.98 L494.2,305.98 L494.5,305.98 L494.8,305.98 L495.1,305.97 L495.4,305.97 L495.7,305.97 L496,305.97 L496.3,305.97 L496.6,305.97 L496.9,305.96 L497.2,305.96 L497.5,305.96 L497.8,305.96 L498.1,305.96 L498.4,305.96 L498.7,305.95 L499,305.95 L499.3,305.95 L499.6,305.95 L499.9,305.95 L500.2,305.94 L500.5,305.94 L500.8,305.94 L501.1,305.94 L501.4,305.94 L501.7,305.94 L502,305.93 L502.3,305.93 L502.6,305.93 L502.9,305.93 L503.2,305.93 L503.5,305.92 L503.8,305.92 L504.1,305.92 L504.4,305.92 L504.7,305.91 L505,305.91 L505.3,305.91 L505.6,305.91 L505.9,305.91 L506.2,305.9 L506.5,305.9 L506.8,305.9 L507.1,305.9 L507.4,305.89 L507.7,305.89 L508,305.89 L508.3,305.89 L508.6,305.88 L508.9,305.88 L509.2,305.88 L509.5,305.87 L509.8,305.87 L510.1,305.87 L510.4,305.87 L510.7,305.86 L511,305.86 L511.3,305.86 L511.6,305.85 L511.9,305.85 L512.2,305.85 L512.5,305.84 L512.8,305.84 L513.1,305.84 L513.4,305.83 L513.7,305.83 L514,305.83 L514.3,305.82 L514.6,305.82 L514.9,305.82 L515.2,305.81 L515.5,305.81 L515.8,305.81 L516.1,305.8 L516.4,305.8 L516.7,305.79 L517,305.79 L517.3,305.79 L517.6,305.78 L517.9,305.78 L518.2,305.77 L518.5,305.77 L518.8,305.76 L519.1,305.76 L519.4,305.75 L519.7,305.75 L520,305.75 L520.3,305.74 L520.6,305.74 L520.9,305.73 L521.2,305.73 L521.5,305.72 L521.8,305.72 L522.1,305.71 L522.4,305.71 L522.7,305.7 L523,305.69 L523.3,305.69 L523.6,305.68 L523.9,305.68 L524.2,305.67 L524.5,305.67 L524.8,305.66 L525.1,305.65 L525.4,305.65 L525.7,305.64 L526,305.64 L526.3,305.63 L526.6,305.62 L526.9,305.62 L527.2,305.61 L527.5,305.6 L527.8,305.6 L528.1,305.59 L528.4,305.58 L528.7,305.57 L529,305.57 L529.3,305.56 L529.6,305.55 L529.9,305.54 L530.2,305.52 L530.5,305.49 L530.8,305.47 L531.1,305.43 L531.4,305.39 L531.7,305.35 L532,305.31 L532.3,305.26 L532.6,305.21 L532.9,305.16 L533.2,305.11 L533.5,305.05 L533.8,305 L534.1,304.94 L534.4,304.88 L534.7,304.82 L535,304.77 L535.3,304.71 L535.6,304.65 L535.9,304.6 L536.2,304.55 L536.5,304.49 L536.8,304.45 L537.1,304.4 L537.4,304.35 L537.7,304.31 L538,304.26 L538.3,304.22 L538.6,304.17 L538.9,304.12 L539.2,304.08 L539.5,304.03 L539.8,303.99 L540.1,303.94 L540.4,303.89 L540.7,303.85 L541,303.8 L541.3,303.75 L541.6,303.71 L541.9,303.66 L542.2,303.61 L542.5,303.57 L542.8,303.52 L543.1,303.47 L543.4,303.43 L543.7,303.38 L544,303.33 L544.3,303.29 L544.4,303.27" stroke="#f00" stroke-dasharray="2.8 2.8"/>
</g>
<text x="43.5" y="144.5" class="tk" text-anchor="middle">0</text>
<text x="84.7" y="144.5" class="tk" text-anchor="middle">0.2</text>
<text x="125.9" y="144.5" class="tk" text-anchor="middle">0.4</text>
<text x="167.1" y="144.5" class="tk" text-anchor="middle">0.6</text>
<text x="208.3" y="144.5" class="tk" text-anchor="middle">0.8</text>
<text x="249.5" y="144.5" class="tk" text-anchor="middle">1</text>
<text x="40.2" y="138" class="tk" text-anchor="end" textLength="15.2" lengthAdjust="spacing">−20</text>
<text x="40.2" y="106.17" class="tk" text-anchor="end" textLength="15.2" lengthAdjust="spacing">−10</text>
<text x="40.2" y="74.35" class="tk" text-anchor="end">0</text>
<text x="40.2" y="42.52" class="tk" text-anchor="end">10</text>
<text x="40.2" y="10.7" class="tk" text-anchor="end">20</text>
<text x="132.95" y="159.9" class="xl" textLength="37.4" lengthAdjust="spacingAndGlyphs">Time [s]</text>
<text x="328.3" y="144.4" class="tk" text-anchor="middle">0</text>
<text x="369.48" y="144.4" class="tk" text-anchor="middle">0.2</text>
<text x="410.66" y="144.4" class="tk" text-anchor="middle">0.4</text>
<text x="451.84" y="144.4" class="tk" text-anchor="middle">0.6</text>
<text x="493.02" y="144.4" class="tk" text-anchor="middle">0.8</text>
<text x="534.2" y="144.4" class="tk" text-anchor="middle">1</text>
<text x="325" y="137.9" class="tk" text-anchor="end" textLength="15.2" lengthAdjust="spacing">−20</text>
<text x="325" y="106.1" class="tk" text-anchor="end" textLength="15.2" lengthAdjust="spacing">−10</text>
<text x="325" y="74.3" class="tk" text-anchor="end">0</text>
<text x="325" y="42.5" class="tk" text-anchor="end">10</text>
<text x="325" y="10.7" class="tk" text-anchor="end">20</text>
<text x="417.7" y="159.8" class="xl" textLength="37.4" lengthAdjust="spacingAndGlyphs">Time [s]</text>
<text x="43.45" y="321.5" class="tk" text-anchor="middle">0</text>
<text x="84.66" y="321.5" class="tk" text-anchor="middle">0.2</text>
<text x="125.87" y="321.5" class="tk" text-anchor="middle">0.4</text>
<text x="167.08" y="321.5" class="tk" text-anchor="middle">0.6</text>
<text x="208.29" y="321.5" class="tk" text-anchor="middle">0.8</text>
<text x="249.5" y="321.5" class="tk" text-anchor="middle">1</text>
<text x="40.15" y="314.5" class="tk" text-anchor="end">0</text>
<text x="40.15" y="282.73" class="tk" text-anchor="end">20</text>
<text x="40.15" y="250.95" class="tk" text-anchor="end">40</text>
<text x="40.15" y="219.17" class="tk" text-anchor="end">60</text>
<text x="40.15" y="187.4" class="tk" text-anchor="end">80</text>
<text x="132.93" y="336.4" class="xl" textLength="37.4" lengthAdjust="spacingAndGlyphs">Time [s]</text>
<text x="328.3" y="321.5" class="tk" text-anchor="middle">0</text>
<text x="369.48" y="321.5" class="tk" text-anchor="middle">0.2</text>
<text x="410.66" y="321.5" class="tk" text-anchor="middle">0.4</text>
<text x="451.84" y="321.5" class="tk" text-anchor="middle">0.6</text>
<text x="493.02" y="321.5" class="tk" text-anchor="middle">0.8</text>
<text x="534.2" y="321.5" class="tk" text-anchor="middle">1</text>
<text x="325" y="314.5" class="tk" text-anchor="end">0</text>
<text x="325" y="289.1" class="tk" text-anchor="end">20</text>
<text x="325" y="263.7" class="tk" text-anchor="end">40</text>
<text x="325" y="238.3" class="tk" text-anchor="end">60</text>
<text x="325" y="212.9" class="tk" text-anchor="end">80</text>
<text x="325" y="187.5" class="tk" text-anchor="end">100</text>
<text x="417.7" y="336.4" class="xl" textLength="37.4" lengthAdjust="spacingAndGlyphs">Time [s]</text>
<rect x="107" y="104.1" width="88.9" height="26.5" fill="#fff" stroke="#777" stroke-width="0.9"/>
<path d="M109.9,111.8 H126.2" stroke="#000" stroke-width="1.3"/>
<text x="129.1" y="114" class="lg" textLength="62" lengthAdjust="spacingAndGlyphs">Without spring</text>
<path d="M109.9,123.4 H126.2" stroke="#f00" stroke-width="1.3"/>
<text x="129.1" y="125.6" class="lg" textLength="49" lengthAdjust="spacingAndGlyphs">With spring</text>
<rect x="107" y="280.7" width="88.9" height="26.7" fill="#fff" stroke="#777" stroke-width="0.9"/>
<path d="M109.9,288.5 H126.2" stroke="#000" stroke-width="1.3"/>
<text x="129.1" y="290.7" class="lg" textLength="62" lengthAdjust="spacingAndGlyphs">Without spring</text>
<path d="M109.9,300.1 H126.2" stroke="#f00" stroke-width="1.3"/>
<text x="129.1" y="302.3" class="lg" textLength="49" lengthAdjust="spacingAndGlyphs">With spring</text>
<rect x="334.9" y="188.5" width="152.8" height="49.4" fill="#fff" stroke="#777" stroke-width="0.9"/>
<path d="M338,196.2 H354" stroke="#000" stroke-width="1.3"/>
<text x="356.5" y="198.4" class="lg" textLength="41.8" lengthAdjust="spacingAndGlyphs">No spring:</text>
<text x="403.2" y="198.4" class="lg" textLength="70.6" lengthAdjust="spacingAndGlyphs">mechanical losses</text>
<path d="M338,207.75 H354" stroke="#f00" stroke-width="1.3"/>
<text x="356.5" y="209.95" class="lg" textLength="51.3" lengthAdjust="spacingAndGlyphs">With spring:</text>
<text x="412.7" y="209.95" class="lg" textLength="70.6" lengthAdjust="spacingAndGlyphs">mechanical losses</text>
<path d="M338,219.3 H354" stroke="#000" stroke-width="1.3" stroke-dasharray="2.8 2.8"/>
<text x="356.5" y="221.5" class="lg" textLength="41.8" lengthAdjust="spacingAndGlyphs">No spring:</text>
<text x="403.2" y="221.5" class="lg" textLength="62" lengthAdjust="spacingAndGlyphs">electrical losses</text>
<path d="M338,230.85 H354" stroke="#f00" stroke-width="1.3" stroke-dasharray="2.8 2.8"/>
<text x="356.5" y="233.05" class="lg" textLength="51.3" lengthAdjust="spacingAndGlyphs">With spring:</text>
<text x="412.7" y="233.05" class="lg" textLength="62" lengthAdjust="spacingAndGlyphs">electrical losses</text>
<text transform="translate(12.6,96.2) rotate(-90)" class="yl" textLength="6.3" lengthAdjust="spacingAndGlyphs" font-weight="bold">T</text>
<text transform="translate(14.5,89) rotate(-90)" class="ys" textLength="18.8" lengthAdjust="spacingAndGlyphs">motor</text>
<text transform="translate(12.6,64.6) rotate(-90)" class="yl" textLength="18.2" lengthAdjust="spacingAndGlyphs">[Nm]</text>
<text transform="translate(297.5,97.5) rotate(-90)" class="yl" textLength="7" lengthAdjust="spacingAndGlyphs" font-weight="bold">T</text>
<text transform="translate(299.4,89.2) rotate(-90)" class="ys" textLength="20.6" lengthAdjust="spacingAndGlyphs">spring</text>
<text transform="translate(297.5,64.3) rotate(-90)" class="yl" textLength="18.7" lengthAdjust="spacingAndGlyphs">[Nm]</text>
<text transform="translate(13.2,277.3) rotate(-90)" class="yl" textLength="6.6" lengthAdjust="spacingAndGlyphs" font-weight="bold" font-style="italic">ω</text>
<text transform="translate(15,269.9) rotate(-90)" class="ys" textLength="19.6" lengthAdjust="spacingAndGlyphs">motor</text>
<text transform="translate(13.2,244.2) rotate(-90)" class="yl" textLength="25.3" lengthAdjust="spacingAndGlyphs">[rad/s]</text>
<text transform="translate(297,268.2) rotate(-90)" class="yl" textLength="40.3" lengthAdjust="spacingAndGlyphs">Energy [J]</text>
</svg>
</body></html>
